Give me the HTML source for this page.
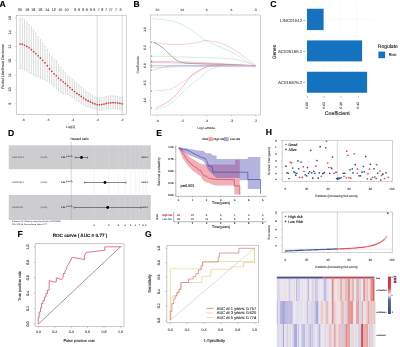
<!DOCTYPE html>
<html><head><meta charset="utf-8"><style>
html,body{margin:0;padding:0;background:#fff;width:400px;height:347px;overflow:hidden}
svg{display:block;will-change:transform}
text{font-family:"Liberation Sans", sans-serif;text-rendering:geometricPrecision}
</style></head><body>
<svg width="400" height="347" viewBox="0 0 400 347">
<rect x="0" y="0" width="400" height="347" fill="#fff"/>
<text x="-0.40" y="6.90" font-size="8.6" fill="#000" text-anchor="start" font-weight="bold" stroke="#000" stroke-width="0.12">A</text>
<line x1="20.00" y1="18.42" x2="20.00" y2="68.62" stroke="#a6aeae" stroke-width="0.42"/>
<line x1="19.40" y1="18.42" x2="20.60" y2="18.42" stroke="#a6aeae" stroke-width="0.42"/>
<line x1="19.40" y1="68.62" x2="20.60" y2="68.62" stroke="#a6aeae" stroke-width="0.42"/>
<line x1="22.27" y1="18.59" x2="22.27" y2="68.79" stroke="#a6aeae" stroke-width="0.42"/>
<line x1="21.67" y1="18.59" x2="22.87" y2="18.59" stroke="#a6aeae" stroke-width="0.42"/>
<line x1="21.67" y1="68.79" x2="22.87" y2="68.79" stroke="#a6aeae" stroke-width="0.42"/>
<line x1="24.54" y1="19.88" x2="24.54" y2="69.83" stroke="#a6aeae" stroke-width="0.42"/>
<line x1="23.94" y1="19.88" x2="25.14" y2="19.88" stroke="#a6aeae" stroke-width="0.42"/>
<line x1="23.94" y1="69.83" x2="25.14" y2="69.83" stroke="#a6aeae" stroke-width="0.42"/>
<line x1="26.81" y1="22.07" x2="26.81" y2="71.02" stroke="#a6aeae" stroke-width="0.42"/>
<line x1="26.21" y1="22.07" x2="27.41" y2="22.07" stroke="#a6aeae" stroke-width="0.42"/>
<line x1="26.21" y1="71.02" x2="27.41" y2="71.02" stroke="#a6aeae" stroke-width="0.42"/>
<line x1="29.08" y1="24.49" x2="29.08" y2="72.34" stroke="#a6aeae" stroke-width="0.42"/>
<line x1="28.48" y1="24.49" x2="29.68" y2="24.49" stroke="#a6aeae" stroke-width="0.42"/>
<line x1="28.48" y1="72.34" x2="29.68" y2="72.34" stroke="#a6aeae" stroke-width="0.42"/>
<line x1="31.35" y1="26.85" x2="31.35" y2="73.83" stroke="#a6aeae" stroke-width="0.42"/>
<line x1="30.75" y1="26.85" x2="31.95" y2="26.85" stroke="#a6aeae" stroke-width="0.42"/>
<line x1="30.75" y1="73.83" x2="31.95" y2="73.83" stroke="#a6aeae" stroke-width="0.42"/>
<line x1="33.62" y1="30.53" x2="33.62" y2="74.97" stroke="#a6aeae" stroke-width="0.42"/>
<line x1="33.02" y1="30.53" x2="34.22" y2="30.53" stroke="#a6aeae" stroke-width="0.42"/>
<line x1="33.02" y1="74.97" x2="34.22" y2="74.97" stroke="#a6aeae" stroke-width="0.42"/>
<line x1="35.89" y1="33.08" x2="35.89" y2="75.87" stroke="#a6aeae" stroke-width="0.42"/>
<line x1="35.29" y1="33.08" x2="36.49" y2="33.08" stroke="#a6aeae" stroke-width="0.42"/>
<line x1="35.29" y1="75.87" x2="36.49" y2="75.87" stroke="#a6aeae" stroke-width="0.42"/>
<line x1="38.16" y1="36.59" x2="38.16" y2="77.03" stroke="#a6aeae" stroke-width="0.42"/>
<line x1="37.56" y1="36.59" x2="38.76" y2="36.59" stroke="#a6aeae" stroke-width="0.42"/>
<line x1="37.56" y1="77.03" x2="38.76" y2="77.03" stroke="#a6aeae" stroke-width="0.42"/>
<line x1="40.43" y1="39.69" x2="40.43" y2="78.20" stroke="#a6aeae" stroke-width="0.42"/>
<line x1="39.83" y1="39.69" x2="41.03" y2="39.69" stroke="#a6aeae" stroke-width="0.42"/>
<line x1="39.83" y1="78.20" x2="41.03" y2="78.20" stroke="#a6aeae" stroke-width="0.42"/>
<line x1="42.70" y1="43.07" x2="42.70" y2="79.12" stroke="#a6aeae" stroke-width="0.42"/>
<line x1="42.10" y1="43.07" x2="43.30" y2="43.07" stroke="#a6aeae" stroke-width="0.42"/>
<line x1="42.10" y1="79.12" x2="43.30" y2="79.12" stroke="#a6aeae" stroke-width="0.42"/>
<line x1="44.97" y1="46.29" x2="44.97" y2="79.96" stroke="#a6aeae" stroke-width="0.42"/>
<line x1="44.37" y1="46.29" x2="45.57" y2="46.29" stroke="#a6aeae" stroke-width="0.42"/>
<line x1="44.37" y1="79.96" x2="45.57" y2="79.96" stroke="#a6aeae" stroke-width="0.42"/>
<line x1="47.24" y1="49.49" x2="47.24" y2="81.15" stroke="#a6aeae" stroke-width="0.42"/>
<line x1="46.64" y1="49.49" x2="47.84" y2="49.49" stroke="#a6aeae" stroke-width="0.42"/>
<line x1="46.64" y1="81.15" x2="47.84" y2="81.15" stroke="#a6aeae" stroke-width="0.42"/>
<line x1="49.51" y1="53.54" x2="49.51" y2="82.64" stroke="#a6aeae" stroke-width="0.42"/>
<line x1="48.91" y1="53.54" x2="50.11" y2="53.54" stroke="#a6aeae" stroke-width="0.42"/>
<line x1="48.91" y1="82.64" x2="50.11" y2="82.64" stroke="#a6aeae" stroke-width="0.42"/>
<line x1="51.78" y1="56.13" x2="51.78" y2="84.62" stroke="#a6aeae" stroke-width="0.42"/>
<line x1="51.18" y1="56.13" x2="52.38" y2="56.13" stroke="#a6aeae" stroke-width="0.42"/>
<line x1="51.18" y1="84.62" x2="52.38" y2="84.62" stroke="#a6aeae" stroke-width="0.42"/>
<line x1="54.05" y1="58.87" x2="54.05" y2="86.82" stroke="#a6aeae" stroke-width="0.42"/>
<line x1="53.45" y1="58.87" x2="54.65" y2="58.87" stroke="#a6aeae" stroke-width="0.42"/>
<line x1="53.45" y1="86.82" x2="54.65" y2="86.82" stroke="#a6aeae" stroke-width="0.42"/>
<line x1="56.32" y1="60.93" x2="56.32" y2="88.35" stroke="#a6aeae" stroke-width="0.42"/>
<line x1="55.72" y1="60.93" x2="56.92" y2="60.93" stroke="#a6aeae" stroke-width="0.42"/>
<line x1="55.72" y1="88.35" x2="56.92" y2="88.35" stroke="#a6aeae" stroke-width="0.42"/>
<line x1="58.59" y1="64.21" x2="58.59" y2="90.51" stroke="#a6aeae" stroke-width="0.42"/>
<line x1="57.99" y1="64.21" x2="59.19" y2="64.21" stroke="#a6aeae" stroke-width="0.42"/>
<line x1="57.99" y1="90.51" x2="59.19" y2="90.51" stroke="#a6aeae" stroke-width="0.42"/>
<line x1="60.86" y1="67.26" x2="60.86" y2="92.43" stroke="#a6aeae" stroke-width="0.42"/>
<line x1="60.26" y1="67.26" x2="61.46" y2="67.26" stroke="#a6aeae" stroke-width="0.42"/>
<line x1="60.26" y1="92.43" x2="61.46" y2="92.43" stroke="#a6aeae" stroke-width="0.42"/>
<line x1="63.13" y1="70.16" x2="63.13" y2="93.97" stroke="#a6aeae" stroke-width="0.42"/>
<line x1="62.53" y1="70.16" x2="63.73" y2="70.16" stroke="#a6aeae" stroke-width="0.42"/>
<line x1="62.53" y1="93.97" x2="63.73" y2="93.97" stroke="#a6aeae" stroke-width="0.42"/>
<line x1="65.40" y1="72.66" x2="65.40" y2="93.75" stroke="#a6aeae" stroke-width="0.42"/>
<line x1="64.80" y1="72.66" x2="66.00" y2="72.66" stroke="#a6aeae" stroke-width="0.42"/>
<line x1="64.80" y1="93.75" x2="66.00" y2="93.75" stroke="#a6aeae" stroke-width="0.42"/>
<line x1="67.67" y1="75.62" x2="67.67" y2="94.28" stroke="#a6aeae" stroke-width="0.42"/>
<line x1="67.07" y1="75.62" x2="68.27" y2="75.62" stroke="#a6aeae" stroke-width="0.42"/>
<line x1="67.07" y1="94.28" x2="68.27" y2="94.28" stroke="#a6aeae" stroke-width="0.42"/>
<line x1="69.94" y1="77.50" x2="69.94" y2="95.82" stroke="#a6aeae" stroke-width="0.42"/>
<line x1="69.34" y1="77.50" x2="70.54" y2="77.50" stroke="#a6aeae" stroke-width="0.42"/>
<line x1="69.34" y1="95.82" x2="70.54" y2="95.82" stroke="#a6aeae" stroke-width="0.42"/>
<line x1="72.21" y1="79.45" x2="72.21" y2="97.43" stroke="#a6aeae" stroke-width="0.42"/>
<line x1="71.61" y1="79.45" x2="72.81" y2="79.45" stroke="#a6aeae" stroke-width="0.42"/>
<line x1="71.61" y1="97.43" x2="72.81" y2="97.43" stroke="#a6aeae" stroke-width="0.42"/>
<line x1="74.48" y1="81.40" x2="74.48" y2="99.04" stroke="#a6aeae" stroke-width="0.42"/>
<line x1="73.88" y1="81.40" x2="75.08" y2="81.40" stroke="#a6aeae" stroke-width="0.42"/>
<line x1="73.88" y1="99.04" x2="75.08" y2="99.04" stroke="#a6aeae" stroke-width="0.42"/>
<line x1="76.75" y1="83.26" x2="76.75" y2="100.57" stroke="#a6aeae" stroke-width="0.42"/>
<line x1="76.15" y1="83.26" x2="77.35" y2="83.26" stroke="#a6aeae" stroke-width="0.42"/>
<line x1="76.15" y1="100.57" x2="77.35" y2="100.57" stroke="#a6aeae" stroke-width="0.42"/>
<line x1="79.02" y1="84.87" x2="79.02" y2="101.65" stroke="#a6aeae" stroke-width="0.42"/>
<line x1="78.42" y1="84.87" x2="79.62" y2="84.87" stroke="#a6aeae" stroke-width="0.42"/>
<line x1="78.42" y1="101.65" x2="79.62" y2="101.65" stroke="#a6aeae" stroke-width="0.42"/>
<line x1="81.29" y1="87.01" x2="81.29" y2="103.26" stroke="#a6aeae" stroke-width="0.42"/>
<line x1="80.69" y1="87.01" x2="81.89" y2="87.01" stroke="#a6aeae" stroke-width="0.42"/>
<line x1="80.69" y1="103.26" x2="81.89" y2="103.26" stroke="#a6aeae" stroke-width="0.42"/>
<line x1="83.56" y1="89.00" x2="83.56" y2="104.71" stroke="#a6aeae" stroke-width="0.42"/>
<line x1="82.96" y1="89.00" x2="84.16" y2="89.00" stroke="#a6aeae" stroke-width="0.42"/>
<line x1="82.96" y1="104.71" x2="84.16" y2="104.71" stroke="#a6aeae" stroke-width="0.42"/>
<line x1="85.83" y1="90.89" x2="85.83" y2="106.08" stroke="#a6aeae" stroke-width="0.42"/>
<line x1="85.23" y1="90.89" x2="86.43" y2="90.89" stroke="#a6aeae" stroke-width="0.42"/>
<line x1="85.23" y1="106.08" x2="86.43" y2="106.08" stroke="#a6aeae" stroke-width="0.42"/>
<line x1="88.10" y1="92.59" x2="88.10" y2="107.05" stroke="#a6aeae" stroke-width="0.42"/>
<line x1="87.50" y1="92.59" x2="88.70" y2="92.59" stroke="#a6aeae" stroke-width="0.42"/>
<line x1="87.50" y1="107.05" x2="88.70" y2="107.05" stroke="#a6aeae" stroke-width="0.42"/>
<line x1="90.37" y1="94.11" x2="90.37" y2="107.81" stroke="#a6aeae" stroke-width="0.42"/>
<line x1="89.77" y1="94.11" x2="90.97" y2="94.11" stroke="#a6aeae" stroke-width="0.42"/>
<line x1="89.77" y1="107.81" x2="90.97" y2="107.81" stroke="#a6aeae" stroke-width="0.42"/>
<line x1="92.64" y1="95.62" x2="92.64" y2="108.55" stroke="#a6aeae" stroke-width="0.42"/>
<line x1="92.04" y1="95.62" x2="93.24" y2="95.62" stroke="#a6aeae" stroke-width="0.42"/>
<line x1="92.04" y1="108.55" x2="93.24" y2="108.55" stroke="#a6aeae" stroke-width="0.42"/>
<line x1="94.91" y1="97.03" x2="94.91" y2="109.24" stroke="#a6aeae" stroke-width="0.42"/>
<line x1="94.31" y1="97.03" x2="95.51" y2="97.03" stroke="#a6aeae" stroke-width="0.42"/>
<line x1="94.31" y1="109.24" x2="95.51" y2="109.24" stroke="#a6aeae" stroke-width="0.42"/>
<line x1="97.18" y1="97.71" x2="97.18" y2="110.02" stroke="#a6aeae" stroke-width="0.42"/>
<line x1="96.58" y1="97.71" x2="97.78" y2="97.71" stroke="#a6aeae" stroke-width="0.42"/>
<line x1="96.58" y1="110.02" x2="97.78" y2="110.02" stroke="#a6aeae" stroke-width="0.42"/>
<line x1="99.45" y1="97.88" x2="99.45" y2="110.34" stroke="#a6aeae" stroke-width="0.42"/>
<line x1="98.85" y1="97.88" x2="100.05" y2="97.88" stroke="#a6aeae" stroke-width="0.42"/>
<line x1="98.85" y1="110.34" x2="100.05" y2="110.34" stroke="#a6aeae" stroke-width="0.42"/>
<line x1="101.72" y1="97.59" x2="101.72" y2="110.19" stroke="#a6aeae" stroke-width="0.42"/>
<line x1="101.12" y1="97.59" x2="102.32" y2="97.59" stroke="#a6aeae" stroke-width="0.42"/>
<line x1="101.12" y1="110.19" x2="102.32" y2="110.19" stroke="#a6aeae" stroke-width="0.42"/>
<line x1="103.99" y1="97.10" x2="103.99" y2="109.85" stroke="#a6aeae" stroke-width="0.42"/>
<line x1="103.39" y1="97.10" x2="104.59" y2="97.10" stroke="#a6aeae" stroke-width="0.42"/>
<line x1="103.39" y1="109.85" x2="104.59" y2="109.85" stroke="#a6aeae" stroke-width="0.42"/>
<line x1="106.26" y1="96.43" x2="106.26" y2="109.33" stroke="#a6aeae" stroke-width="0.42"/>
<line x1="105.66" y1="96.43" x2="106.86" y2="96.43" stroke="#a6aeae" stroke-width="0.42"/>
<line x1="105.66" y1="109.33" x2="106.86" y2="109.33" stroke="#a6aeae" stroke-width="0.42"/>
<line x1="108.53" y1="96.00" x2="108.53" y2="109.04" stroke="#a6aeae" stroke-width="0.42"/>
<line x1="107.93" y1="96.00" x2="109.13" y2="96.00" stroke="#a6aeae" stroke-width="0.42"/>
<line x1="107.93" y1="109.04" x2="109.13" y2="109.04" stroke="#a6aeae" stroke-width="0.42"/>
<line x1="110.80" y1="95.79" x2="110.80" y2="108.97" stroke="#a6aeae" stroke-width="0.42"/>
<line x1="110.20" y1="95.79" x2="111.40" y2="95.79" stroke="#a6aeae" stroke-width="0.42"/>
<line x1="110.20" y1="108.97" x2="111.40" y2="108.97" stroke="#a6aeae" stroke-width="0.42"/>
<line x1="113.07" y1="95.78" x2="113.07" y2="108.84" stroke="#a6aeae" stroke-width="0.42"/>
<line x1="112.47" y1="95.78" x2="113.67" y2="95.78" stroke="#a6aeae" stroke-width="0.42"/>
<line x1="112.47" y1="108.84" x2="113.67" y2="108.84" stroke="#a6aeae" stroke-width="0.42"/>
<line x1="115.34" y1="96.03" x2="115.34" y2="108.94" stroke="#a6aeae" stroke-width="0.42"/>
<line x1="114.74" y1="96.03" x2="115.94" y2="96.03" stroke="#a6aeae" stroke-width="0.42"/>
<line x1="114.74" y1="108.94" x2="115.94" y2="108.94" stroke="#a6aeae" stroke-width="0.42"/>
<line x1="117.61" y1="96.37" x2="117.61" y2="109.13" stroke="#a6aeae" stroke-width="0.42"/>
<line x1="117.01" y1="96.37" x2="118.21" y2="96.37" stroke="#a6aeae" stroke-width="0.42"/>
<line x1="117.01" y1="109.13" x2="118.21" y2="109.13" stroke="#a6aeae" stroke-width="0.42"/>
<line x1="119.88" y1="96.92" x2="119.88" y2="109.52" stroke="#a6aeae" stroke-width="0.42"/>
<line x1="119.28" y1="96.92" x2="120.48" y2="96.92" stroke="#a6aeae" stroke-width="0.42"/>
<line x1="119.28" y1="109.52" x2="120.48" y2="109.52" stroke="#a6aeae" stroke-width="0.42"/>
<line x1="122.15" y1="97.60" x2="122.15" y2="110.05" stroke="#a6aeae" stroke-width="0.42"/>
<line x1="121.55" y1="97.60" x2="122.75" y2="97.60" stroke="#a6aeae" stroke-width="0.42"/>
<line x1="121.55" y1="110.05" x2="122.75" y2="110.05" stroke="#a6aeae" stroke-width="0.42"/>
<circle cx="20.00" cy="44.02" r="0.85" fill="#d83434"/>
<circle cx="22.27" cy="44.19" r="0.85" fill="#d83434"/>
<circle cx="24.54" cy="45.23" r="0.85" fill="#d83434"/>
<circle cx="26.81" cy="46.42" r="0.85" fill="#d83434"/>
<circle cx="29.08" cy="47.74" r="0.85" fill="#d83434"/>
<circle cx="31.35" cy="49.56" r="0.85" fill="#d83434"/>
<circle cx="33.62" cy="51.70" r="0.85" fill="#d83434"/>
<circle cx="35.89" cy="53.61" r="0.85" fill="#d83434"/>
<circle cx="38.16" cy="55.77" r="0.85" fill="#d83434"/>
<circle cx="40.43" cy="57.95" r="0.85" fill="#d83434"/>
<circle cx="42.70" cy="60.37" r="0.85" fill="#d83434"/>
<circle cx="44.97" cy="62.87" r="0.85" fill="#d83434"/>
<circle cx="47.24" cy="65.72" r="0.85" fill="#d83434"/>
<circle cx="49.51" cy="68.88" r="0.85" fill="#d83434"/>
<circle cx="51.78" cy="71.27" r="0.85" fill="#d83434"/>
<circle cx="54.05" cy="73.84" r="0.85" fill="#d83434"/>
<circle cx="56.32" cy="75.73" r="0.85" fill="#d83434"/>
<circle cx="58.59" cy="77.98" r="0.85" fill="#d83434"/>
<circle cx="60.86" cy="79.97" r="0.85" fill="#d83434"/>
<circle cx="63.13" cy="81.84" r="0.85" fill="#d83434"/>
<circle cx="65.40" cy="83.50" r="0.85" fill="#d83434"/>
<circle cx="67.67" cy="85.72" r="0.85" fill="#d83434"/>
<circle cx="69.94" cy="87.60" r="0.85" fill="#d83434"/>
<circle cx="72.21" cy="89.55" r="0.85" fill="#d83434"/>
<circle cx="74.48" cy="91.50" r="0.85" fill="#d83434"/>
<circle cx="76.75" cy="93.36" r="0.85" fill="#d83434"/>
<circle cx="79.02" cy="94.64" r="0.85" fill="#d83434"/>
<circle cx="81.29" cy="96.44" r="0.85" fill="#d83434"/>
<circle cx="83.56" cy="98.09" r="0.85" fill="#d83434"/>
<circle cx="85.83" cy="99.65" r="0.85" fill="#d83434"/>
<circle cx="88.10" cy="100.90" r="0.85" fill="#d83434"/>
<circle cx="90.37" cy="101.94" r="0.85" fill="#d83434"/>
<circle cx="92.64" cy="102.97" r="0.85" fill="#d83434"/>
<circle cx="94.91" cy="103.94" r="0.85" fill="#d83434"/>
<circle cx="97.18" cy="104.61" r="0.85" fill="#d83434"/>
<circle cx="99.45" cy="104.80" r="0.85" fill="#d83434"/>
<circle cx="101.72" cy="104.52" r="0.85" fill="#d83434"/>
<circle cx="103.99" cy="104.05" r="0.85" fill="#d83434"/>
<circle cx="106.26" cy="103.40" r="0.85" fill="#d83434"/>
<circle cx="108.53" cy="102.98" r="0.85" fill="#d83434"/>
<circle cx="110.80" cy="102.79" r="0.85" fill="#d83434"/>
<circle cx="113.07" cy="102.64" r="0.85" fill="#d83434"/>
<circle cx="115.34" cy="102.74" r="0.85" fill="#d83434"/>
<circle cx="117.61" cy="102.93" r="0.85" fill="#d83434"/>
<circle cx="119.88" cy="103.32" r="0.85" fill="#d83434"/>
<circle cx="122.15" cy="103.85" r="0.85" fill="#d83434"/>
<line x1="97.20" y1="15.20" x2="97.20" y2="114.60" stroke="#9a9a9a" stroke-width="0.4"/>
<line x1="122.20" y1="15.20" x2="122.20" y2="114.60" stroke="#9a9a9a" stroke-width="0.4"/>
<rect x="16.30" y="15.20" width="109.90" height="99.40" fill="none" stroke="#9a9a9a" stroke-width="0.45"/>
<text x="20.00" y="10.90" font-size="3.7" fill="#555" text-anchor="middle" font-weight="normal" stroke="#555" stroke-width="0.12">20</text>
<text x="27.20" y="10.90" font-size="3.7" fill="#555" text-anchor="middle" font-weight="normal" stroke="#555" stroke-width="0.12">19</text>
<text x="33.20" y="10.90" font-size="3.7" fill="#555" text-anchor="middle" font-weight="normal" stroke="#555" stroke-width="0.12">18</text>
<text x="40.25" y="10.90" font-size="3.7" fill="#555" text-anchor="middle" font-weight="normal" stroke="#555" stroke-width="0.12">18</text>
<text x="47.30" y="10.90" font-size="3.7" fill="#555" text-anchor="middle" font-weight="normal" stroke="#555" stroke-width="0.12">14</text>
<text x="53.75" y="10.90" font-size="3.7" fill="#555" text-anchor="middle" font-weight="normal" stroke="#555" stroke-width="0.12">12</text>
<text x="60.20" y="10.90" font-size="3.7" fill="#555" text-anchor="middle" font-weight="normal" stroke="#555" stroke-width="0.12">10</text>
<text x="66.50" y="10.90" font-size="3.7" fill="#555" text-anchor="middle" font-weight="normal" stroke="#555" stroke-width="0.12">10</text>
<text x="75.25" y="10.90" font-size="3.7" fill="#555" text-anchor="middle" font-weight="normal" stroke="#555" stroke-width="0.12">9</text>
<text x="79.00" y="10.90" font-size="3.7" fill="#555" text-anchor="middle" font-weight="normal" stroke="#555" stroke-width="0.12">9</text>
<text x="83.20" y="10.90" font-size="3.7" fill="#555" text-anchor="middle" font-weight="normal" stroke="#555" stroke-width="0.12">9</text>
<text x="86.80" y="10.90" font-size="3.7" fill="#555" text-anchor="middle" font-weight="normal" stroke="#555" stroke-width="0.12">9</text>
<text x="91.00" y="10.90" font-size="3.7" fill="#555" text-anchor="middle" font-weight="normal" stroke="#555" stroke-width="0.12">9</text>
<text x="94.30" y="10.90" font-size="3.7" fill="#555" text-anchor="middle" font-weight="normal" stroke="#555" stroke-width="0.12">9</text>
<text x="98.50" y="10.90" font-size="3.7" fill="#555" text-anchor="middle" font-weight="normal" stroke="#555" stroke-width="0.12">7</text>
<text x="102.25" y="10.90" font-size="3.7" fill="#555" text-anchor="middle" font-weight="normal" stroke="#555" stroke-width="0.12">8</text>
<text x="106.00" y="10.90" font-size="3.7" fill="#555" text-anchor="middle" font-weight="normal" stroke="#555" stroke-width="0.12">7</text>
<text x="109.75" y="10.90" font-size="3.7" fill="#555" text-anchor="middle" font-weight="normal" stroke="#555" stroke-width="0.12">7</text>
<text x="111.50" y="10.90" font-size="3.7" fill="#555" text-anchor="middle" font-weight="normal" stroke="#555" stroke-width="0.12">7</text>
<text x="116.00" y="10.90" font-size="3.7" fill="#555" text-anchor="middle" font-weight="normal" stroke="#555" stroke-width="0.12">7</text>
<text x="120.50" y="10.90" font-size="3.7" fill="#555" text-anchor="middle" font-weight="normal" stroke="#555" stroke-width="0.12">3</text>
<line x1="16.30" y1="18.00" x2="15.10" y2="18.00" stroke="#8a8a8a" stroke-width="0.4"/>
<text x="11.20" y="18.00" font-size="3.6" fill="#555" text-anchor="middle" font-weight="normal" stroke="#555" stroke-width="0.12" transform="rotate(-90 11.20 18.00)">16</text>
<line x1="16.30" y1="32.30" x2="15.10" y2="32.30" stroke="#8a8a8a" stroke-width="0.4"/>
<text x="11.20" y="32.30" font-size="3.6" fill="#555" text-anchor="middle" font-weight="normal" stroke="#555" stroke-width="0.12" transform="rotate(-90 11.20 32.30)">14</text>
<line x1="16.30" y1="46.50" x2="15.10" y2="46.50" stroke="#8a8a8a" stroke-width="0.4"/>
<text x="11.20" y="46.50" font-size="3.6" fill="#555" text-anchor="middle" font-weight="normal" stroke="#555" stroke-width="0.12" transform="rotate(-90 11.20 46.50)">12</text>
<line x1="16.30" y1="60.80" x2="15.10" y2="60.80" stroke="#8a8a8a" stroke-width="0.4"/>
<text x="11.20" y="60.80" font-size="3.6" fill="#555" text-anchor="middle" font-weight="normal" stroke="#555" stroke-width="0.12" transform="rotate(-90 11.20 60.80)">10</text>
<line x1="16.30" y1="75.10" x2="15.10" y2="75.10" stroke="#8a8a8a" stroke-width="0.4"/>
<text x="11.20" y="75.10" font-size="3.6" fill="#555" text-anchor="middle" font-weight="normal" stroke="#555" stroke-width="0.12" transform="rotate(-90 11.20 75.10)">11</text>
<line x1="16.30" y1="89.40" x2="15.10" y2="89.40" stroke="#8a8a8a" stroke-width="0.4"/>
<text x="11.20" y="89.40" font-size="3.6" fill="#555" text-anchor="middle" font-weight="normal" stroke="#555" stroke-width="0.12" transform="rotate(-90 11.20 89.40)">10</text>
<line x1="16.30" y1="103.70" x2="15.10" y2="103.70" stroke="#8a8a8a" stroke-width="0.4"/>
<text x="11.20" y="103.70" font-size="3.6" fill="#555" text-anchor="middle" font-weight="normal" stroke="#555" stroke-width="0.12" transform="rotate(-90 11.20 103.70)">9</text>
<line x1="23.40" y1="114.60" x2="23.40" y2="115.80" stroke="#8a8a8a" stroke-width="0.4"/>
<text x="23.40" y="121.40" font-size="3.2" fill="#555" text-anchor="middle" font-weight="normal" stroke="#555" stroke-width="0.12">-6</text>
<line x1="48.00" y1="114.60" x2="48.00" y2="115.80" stroke="#8a8a8a" stroke-width="0.4"/>
<text x="48.00" y="121.40" font-size="3.2" fill="#555" text-anchor="middle" font-weight="normal" stroke="#555" stroke-width="0.12">-5</text>
<line x1="72.80" y1="114.60" x2="72.80" y2="115.80" stroke="#8a8a8a" stroke-width="0.4"/>
<text x="72.80" y="121.40" font-size="3.2" fill="#555" text-anchor="middle" font-weight="normal" stroke="#555" stroke-width="0.12">-4</text>
<line x1="97.50" y1="114.60" x2="97.50" y2="115.80" stroke="#8a8a8a" stroke-width="0.4"/>
<text x="97.50" y="121.40" font-size="3.2" fill="#555" text-anchor="middle" font-weight="normal" stroke="#555" stroke-width="0.12">-3</text>
<line x1="122.00" y1="114.60" x2="122.00" y2="115.80" stroke="#8a8a8a" stroke-width="0.4"/>
<text x="122.00" y="121.40" font-size="3.2" fill="#555" text-anchor="middle" font-weight="normal" stroke="#555" stroke-width="0.12">-2</text>
<text x="70.50" y="128.00" font-size="3.3" fill="#555" text-anchor="middle" font-weight="normal" stroke="#555" stroke-width="0.12">Log(λ)</text>
<text x="3.80" y="66.60" font-size="3.7" fill="#555" text-anchor="middle" font-weight="normal" stroke="#555" stroke-width="0.12" transform="rotate(-90 3.80 66.60)">Partial Likelihood Deviance</text>
<text x="133.60" y="6.90" font-size="8.6" fill="#000" text-anchor="start" font-weight="bold" stroke="#000" stroke-width="0.12">B</text>
<text x="157.40" y="10.80" font-size="3.3" fill="#555" text-anchor="middle" font-weight="normal" stroke="#555" stroke-width="0.12">20</text>
<line x1="157.40" y1="15.00" x2="157.40" y2="14.00" stroke="#8a8a8a" stroke-width="0.4"/>
<text x="182.00" y="10.80" font-size="3.3" fill="#555" text-anchor="middle" font-weight="normal" stroke="#555" stroke-width="0.12">14</text>
<line x1="182.00" y1="15.00" x2="182.00" y2="14.00" stroke="#8a8a8a" stroke-width="0.4"/>
<text x="206.60" y="10.80" font-size="3.3" fill="#555" text-anchor="middle" font-weight="normal" stroke="#555" stroke-width="0.12">6</text>
<line x1="206.60" y1="15.00" x2="206.60" y2="14.00" stroke="#8a8a8a" stroke-width="0.4"/>
<text x="231.50" y="10.80" font-size="3.3" fill="#555" text-anchor="middle" font-weight="normal" stroke="#555" stroke-width="0.12">6</text>
<line x1="231.50" y1="15.00" x2="231.50" y2="14.00" stroke="#8a8a8a" stroke-width="0.4"/>
<text x="255.70" y="10.80" font-size="3.3" fill="#555" text-anchor="middle" font-weight="normal" stroke="#555" stroke-width="0.12">3</text>
<line x1="255.70" y1="15.00" x2="255.70" y2="14.00" stroke="#8a8a8a" stroke-width="0.4"/>
<line x1="157.30" y1="115.00" x2="157.30" y2="116.20" stroke="#8a8a8a" stroke-width="0.4"/>
<text x="157.30" y="121.60" font-size="3.3" fill="#555" text-anchor="middle" font-weight="normal" stroke="#555" stroke-width="0.12">-6</text>
<line x1="182.50" y1="115.00" x2="182.50" y2="116.20" stroke="#8a8a8a" stroke-width="0.4"/>
<text x="182.50" y="121.60" font-size="3.3" fill="#555" text-anchor="middle" font-weight="normal" stroke="#555" stroke-width="0.12">-5</text>
<line x1="206.60" y1="115.00" x2="206.60" y2="116.20" stroke="#8a8a8a" stroke-width="0.4"/>
<text x="206.60" y="121.60" font-size="3.3" fill="#555" text-anchor="middle" font-weight="normal" stroke="#555" stroke-width="0.12">-4</text>
<line x1="231.50" y1="115.00" x2="231.50" y2="116.20" stroke="#8a8a8a" stroke-width="0.4"/>
<text x="231.50" y="121.60" font-size="3.3" fill="#555" text-anchor="middle" font-weight="normal" stroke="#555" stroke-width="0.12">-3</text>
<line x1="255.70" y1="115.00" x2="255.70" y2="116.20" stroke="#8a8a8a" stroke-width="0.4"/>
<text x="255.70" y="121.60" font-size="3.3" fill="#555" text-anchor="middle" font-weight="normal" stroke="#555" stroke-width="0.12">-2</text>
<line x1="150.50" y1="29.50" x2="149.30" y2="29.50" stroke="#8a8a8a" stroke-width="0.4"/>
<text x="145.60" y="29.50" font-size="3.3" fill="#555" text-anchor="middle" font-weight="normal" stroke="#555" stroke-width="0.12" transform="rotate(-90 145.60 29.50)">1.0</text>
<line x1="150.50" y1="47.40" x2="149.30" y2="47.40" stroke="#8a8a8a" stroke-width="0.4"/>
<text x="145.60" y="47.40" font-size="3.3" fill="#555" text-anchor="middle" font-weight="normal" stroke="#555" stroke-width="0.12" transform="rotate(-90 145.60 47.40)">0.5</text>
<line x1="150.50" y1="65.50" x2="149.30" y2="65.50" stroke="#8a8a8a" stroke-width="0.4"/>
<text x="145.60" y="65.50" font-size="3.3" fill="#555" text-anchor="middle" font-weight="normal" stroke="#555" stroke-width="0.12" transform="rotate(-90 145.60 65.50)">0.0</text>
<line x1="150.50" y1="83.20" x2="149.30" y2="83.20" stroke="#8a8a8a" stroke-width="0.4"/>
<text x="145.60" y="83.20" font-size="3.3" fill="#555" text-anchor="middle" font-weight="normal" stroke="#555" stroke-width="0.12" transform="rotate(-90 145.60 83.20)">-0.5</text>
<line x1="150.50" y1="100.60" x2="149.30" y2="100.60" stroke="#8a8a8a" stroke-width="0.4"/>
<text x="145.60" y="100.60" font-size="3.3" fill="#555" text-anchor="middle" font-weight="normal" stroke="#555" stroke-width="0.12" transform="rotate(-90 145.60 100.60)">-1.0</text>
<text x="138.60" y="65.00" font-size="3.3" fill="#555" text-anchor="middle" font-weight="normal" stroke="#555" stroke-width="0.12" transform="rotate(-90 138.60 65.00)">Coefficients</text>
<text x="206.00" y="129.20" font-size="3.2" fill="#555" text-anchor="middle" font-weight="normal" stroke="#555" stroke-width="0.12">Log Lambda</text>
<polyline points="151.50,18.60 154.02,18.86 157.57,19.18 161.75,19.58 166.15,20.09 170.37,20.72 174.00,21.50 177.11,22.48 180.04,23.66 182.78,24.96 185.35,26.33 187.76,27.70 190.00,29.00 192.06,30.29 193.93,31.63 195.62,32.96 197.19,34.25 198.63,35.45 200.00,36.50 201.16,37.37 202.08,38.07 202.88,38.68 203.71,39.26 204.70,39.88 206.00,40.60 207.57,41.39 209.31,42.21 211.21,43.06 213.28,43.96 215.51,44.93 217.90,46.00 220.63,47.20 223.73,48.54 226.99,49.95 230.21,51.37 233.18,52.74 235.70,54.00 237.68,55.14 239.25,56.22 240.58,57.25 241.81,58.24 243.10,59.22 244.60,60.20 246.43,61.23 248.49,62.32 250.61,63.39 252.60,64.37 254.29,65.20 255.50,65.80" fill="none" stroke="#a6d8d0" stroke-width="0.5" stroke-linejoin="round"/>
<polyline points="152.30,42.30 154.67,42.60 157.95,43.04 161.84,43.55 166.01,44.04 170.17,44.42 174.00,44.60 177.66,44.57 181.42,44.39 185.17,44.09 188.77,43.74 192.09,43.36 195.00,43.00 197.36,42.59 199.24,42.07 200.85,41.52 202.38,41.04 204.03,40.71 206.00,40.60 208.32,40.71 210.85,40.99 213.49,41.40 216.19,41.95 218.85,42.62 221.40,43.40 223.89,44.34 226.38,45.44 228.84,46.67 231.24,47.98 233.54,49.30 235.70,50.60 237.73,51.92 239.66,53.31 241.49,54.73 243.23,56.11 244.86,57.42 246.40,58.60 247.86,59.67 249.26,60.66 250.55,61.57 251.72,62.41 252.75,63.15 253.60,63.80 254.25,64.34 254.70,64.78 255.00,65.12 255.20,65.40 255.35,65.62 255.50,65.80" fill="none" stroke="#e8a0b4" stroke-width="0.5" stroke-linejoin="round"/>
<polyline points="154.00,42.30 155.00,42.90 156.39,43.72 158.03,44.70 159.78,45.78 161.48,46.90 163.00,48.00 164.30,49.12 165.50,50.30 166.66,51.52 167.84,52.76 169.10,53.99 170.50,55.20 171.96,56.44 173.43,57.75 174.98,59.05 176.68,60.27 178.63,61.35 180.90,62.20 183.45,62.79 186.22,63.16 189.23,63.39 192.50,63.53 196.09,63.64 200.00,63.80 204.42,63.98 209.36,64.11 214.60,64.22 219.93,64.33 225.13,64.45 230.00,64.60 234.81,64.79 239.78,65.01 244.62,65.25 249.06,65.47 252.78,65.66 255.50,65.80" fill="none" stroke="#4e5a4e" stroke-width="0.5" stroke-linejoin="round"/>
<polyline points="151.50,56.10 157.98,56.28 167.21,56.54 178.02,56.84 189.21,57.16 199.60,57.49 208.00,57.80 214.37,58.04 219.66,58.23 224.14,58.42 228.12,58.67 231.87,59.04 235.70,59.60 239.69,60.45 243.62,61.57 247.33,62.81 250.66,64.03 253.44,65.07 255.50,65.80" fill="none" stroke="#b0dcb0" stroke-width="0.5" stroke-linejoin="round"/>
<polyline points="152.00,61.25 157.14,61.36 164.17,61.50 172.53,61.67 181.67,61.89 191.01,62.16 200.00,62.50 209.46,62.97 220.00,63.57 230.75,64.23 240.83,64.87 249.38,65.42 255.50,65.80" fill="none" stroke="#e890a0" stroke-width="0.5" stroke-linejoin="round"/>
<polyline points="152.00,62.50 157.14,62.59 164.17,62.71 172.53,62.86 181.67,63.03 191.01,63.25 200.00,63.50 209.46,63.83 220.00,64.26 230.75,64.71 240.83,65.16 249.38,65.53 255.50,65.80" fill="none" stroke="#c090c0" stroke-width="0.5" stroke-linejoin="round"/>
<polyline points="152.00,65.40 157.14,65.40 164.17,65.39 172.53,65.38 181.67,65.37 191.01,65.38 200.00,65.40 209.46,65.45 220.00,65.52 230.75,65.60 240.83,65.68 249.38,65.75 255.50,65.80" fill="none" stroke="#98a4b4" stroke-width="0.5" stroke-linejoin="round"/>
<polyline points="152.00,67.10 157.14,67.04 164.17,66.95 172.53,66.84 181.67,66.73 191.01,66.61 200.00,66.50 209.46,66.38 220.00,66.25 230.75,66.11 240.83,65.99 249.38,65.88 255.50,65.80" fill="none" stroke="#b8a0d0" stroke-width="0.5" stroke-linejoin="round"/>
<polyline points="152.50,70.20 154.30,69.70 156.60,68.96 159.43,68.11 162.79,67.26 166.70,66.52 171.20,66.00 176.43,65.73 182.40,65.63 188.92,65.64 195.83,65.70 202.91,65.78 210.00,65.80 217.72,65.79 226.36,65.79 235.18,65.79 243.46,65.79 250.47,65.80 255.50,65.80" fill="none" stroke="#a0b0c4" stroke-width="0.5" stroke-linejoin="round"/>
<polyline points="155.10,90.70 156.87,90.59 159.34,90.50 162.26,90.36 165.37,90.09 168.43,89.63 171.20,88.90 173.73,87.81 176.23,86.39 178.69,84.78 181.07,83.10 183.35,81.46 185.50,80.00 187.48,78.71 189.29,77.48 191.01,76.31 192.69,75.16 194.39,74.03 196.20,72.90 198.10,71.70 200.04,70.44 202.02,69.19 204.01,68.03 206.01,67.04 208.00,66.30 209.72,65.86 211.11,65.66 212.52,65.64 214.25,65.70 216.64,65.78 220.00,65.80 224.97,65.77 231.41,65.76 238.50,65.77 245.43,65.78 251.37,65.79 255.50,65.80" fill="none" stroke="#eeaabe" stroke-width="0.5" stroke-linejoin="round"/>
<polyline points="155.10,108.60 156.89,107.68 159.41,106.46 162.37,104.99 165.50,103.32 168.54,101.51 171.20,99.60 173.53,97.49 175.77,95.13 177.90,92.61 179.93,90.07 181.87,87.63 183.70,85.40 185.32,83.37 186.69,81.44 187.97,79.61 189.29,77.87 190.78,76.20 192.60,74.60 194.81,73.02 197.30,71.46 199.98,69.97 202.73,68.63 205.44,67.48 208.00,66.60 210.19,66.04 212.05,65.77 213.87,65.70 215.94,65.74 218.55,65.80 222.00,65.80 226.84,65.75 232.96,65.74 239.62,65.75 246.09,65.77 251.63,65.79 255.50,65.80" fill="none" stroke="#e47c98" stroke-width="0.5" stroke-linejoin="round"/>
<polyline points="155.00,110.40 156.74,109.68 159.14,108.76 161.98,107.64 165.05,106.30 168.13,104.76 171.00,103.00 173.72,100.90 176.49,98.44 179.26,95.76 182.00,93.03 184.70,90.39 187.30,88.00 189.89,85.80 192.51,83.67 195.07,81.62 197.49,79.71 199.70,77.96 201.60,76.40 203.08,75.07 204.19,73.96 205.07,73.00 205.89,72.16 206.82,71.37 208.00,70.60 209.41,69.84 210.92,69.15 212.53,68.51 214.24,67.94 216.06,67.44 218.00,67.00 219.99,66.65 222.02,66.38 224.16,66.17 226.48,66.02 229.07,65.90 232.00,65.80 235.64,65.73 240.00,65.71 244.62,65.72 249.06,65.76 252.83,65.79 255.50,65.80" fill="none" stroke="#a8dee6" stroke-width="0.5" stroke-linejoin="round"/>
<text x="152.20" y="43.10" font-size="2.2" fill="#777" text-anchor="end" font-weight="normal" stroke="#777" stroke-width="0.12">1</text>
<text x="152.20" y="56.90" font-size="2.2" fill="#777" text-anchor="end" font-weight="normal" stroke="#777" stroke-width="0.12">1</text>
<text x="152.20" y="62.10" font-size="2.2" fill="#777" text-anchor="end" font-weight="normal" stroke="#777" stroke-width="0.12">1</text>
<text x="152.20" y="63.30" font-size="2.2" fill="#777" text-anchor="end" font-weight="normal" stroke="#777" stroke-width="0.12">1</text>
<text x="152.20" y="66.20" font-size="2.2" fill="#777" text-anchor="end" font-weight="normal" stroke="#777" stroke-width="0.12">1</text>
<text x="152.20" y="67.90" font-size="2.2" fill="#777" text-anchor="end" font-weight="normal" stroke="#777" stroke-width="0.12">1</text>
<text x="152.20" y="71.00" font-size="2.2" fill="#777" text-anchor="end" font-weight="normal" stroke="#777" stroke-width="0.12">1</text>
<text x="152.20" y="91.50" font-size="2.2" fill="#777" text-anchor="end" font-weight="normal" stroke="#777" stroke-width="0.12">1</text>
<text x="152.20" y="109.40" font-size="2.2" fill="#777" text-anchor="end" font-weight="normal" stroke="#777" stroke-width="0.12">1</text>
<rect x="150.50" y="15.00" width="110.00" height="100.00" fill="none" stroke="#9a9a9a" stroke-width="0.45"/>
<text x="270.30" y="7.10" font-size="8.6" fill="#000" text-anchor="start" font-weight="bold" stroke="#000" stroke-width="0.12">C</text>
<line x1="307.00" y1="4.00" x2="307.00" y2="97.00" stroke="#f0f0f0" stroke-width="0.4"/>
<line x1="323.60" y1="4.00" x2="323.60" y2="97.00" stroke="#f0f0f0" stroke-width="0.4"/>
<line x1="340.20" y1="4.00" x2="340.20" y2="97.00" stroke="#f0f0f0" stroke-width="0.4"/>
<line x1="356.80" y1="4.00" x2="356.80" y2="97.00" stroke="#f0f0f0" stroke-width="0.4"/>
<line x1="305.00" y1="19.40" x2="372.00" y2="19.40" stroke="#f0f0f0" stroke-width="0.4"/>
<line x1="305.00" y1="51.00" x2="372.00" y2="51.00" stroke="#f0f0f0" stroke-width="0.4"/>
<line x1="305.00" y1="82.30" x2="372.00" y2="82.30" stroke="#f0f0f0" stroke-width="0.4"/>
<rect x="307.00" y="8.75" width="16.60" height="21.35" fill="#1572bf" stroke="none" stroke-width="0.5"/>
<rect x="307.00" y="40.40" width="55.10" height="21.00" fill="#1572bf" stroke="none" stroke-width="0.5"/>
<rect x="307.00" y="71.75" width="60.10" height="21.00" fill="#1572bf" stroke="none" stroke-width="0.5"/>
<text x="302.30" y="21.90" font-size="4.4" fill="#4a4a4a" text-anchor="end" font-weight="normal" stroke="#4a4a4a" stroke-width="0.08">LINC01612</text>
<line x1="303.20" y1="20.40" x2="305.00" y2="20.40" stroke="#444" stroke-width="0.45"/>
<text x="302.30" y="53.00" font-size="4.4" fill="#4a4a4a" text-anchor="end" font-weight="normal" stroke="#4a4a4a" stroke-width="0.08">AC025166.1</text>
<line x1="303.20" y1="51.50" x2="305.00" y2="51.50" stroke="#444" stroke-width="0.45"/>
<text x="302.30" y="84.00" font-size="4.4" fill="#4a4a4a" text-anchor="end" font-weight="normal" stroke="#4a4a4a" stroke-width="0.08">AC016876.2</text>
<line x1="303.20" y1="82.50" x2="305.00" y2="82.50" stroke="#444" stroke-width="0.45"/>
<text x="275.80" y="52.00" font-size="4.9" fill="#222" text-anchor="middle" font-weight="normal" stroke="#222" stroke-width="0.12" transform="rotate(-90 275.80 52.00)">Genes</text>
<line x1="307.40" y1="96.00" x2="307.40" y2="97.60" stroke="#555" stroke-width="0.4"/>
<text x="308.50" y="105.20" font-size="3.3" fill="#555" text-anchor="middle" font-weight="normal" stroke="#555" stroke-width="0.12" transform="rotate(-90 308.50 105.20)">0.00</text>
<line x1="324.20" y1="96.00" x2="324.20" y2="97.60" stroke="#555" stroke-width="0.4"/>
<text x="325.30" y="105.20" font-size="3.3" fill="#555" text-anchor="middle" font-weight="normal" stroke="#555" stroke-width="0.12" transform="rotate(-90 325.30 105.20)">0.05</text>
<line x1="341.00" y1="96.00" x2="341.00" y2="97.60" stroke="#555" stroke-width="0.4"/>
<text x="342.10" y="105.20" font-size="3.3" fill="#555" text-anchor="middle" font-weight="normal" stroke="#555" stroke-width="0.12" transform="rotate(-90 342.10 105.20)">0.10</text>
<line x1="358.40" y1="96.00" x2="358.40" y2="97.60" stroke="#555" stroke-width="0.4"/>
<text x="359.50" y="105.20" font-size="3.3" fill="#555" text-anchor="middle" font-weight="normal" stroke="#555" stroke-width="0.12" transform="rotate(-90 359.50 105.20)">0.15</text>
<text x="337.20" y="114.90" font-size="5.3" fill="#222" text-anchor="middle" font-weight="normal" stroke="#222" stroke-width="0.12">Coefficient</text>
<text x="377.80" y="47.90" font-size="5.0" fill="#222" text-anchor="start" font-weight="normal" stroke="#222" stroke-width="0.12">Regulate</text>
<rect x="378.40" y="51.60" width="6.70" height="6.60" fill="#1572bf" stroke="none" stroke-width="0.5"/>
<text x="388.80" y="56.20" font-size="3.9" fill="#333" text-anchor="start" font-weight="normal" stroke="#333" stroke-width="0.12">Risk</text>
<text x="8.00" y="136.00" font-size="8.6" fill="#000" text-anchor="start" font-weight="bold" stroke="#000" stroke-width="0.12">D</text>
<rect x="8.75" y="145.30" width="142.00" height="23.90" fill="#cdcdd0" stroke="none" stroke-width="0.5"/>
<rect x="8.75" y="194.90" width="142.00" height="25.10" fill="#cdcdd0" stroke="none" stroke-width="0.5"/>
<line x1="94.20" y1="145.30" x2="94.20" y2="220.00" stroke="#e2e2e4" stroke-width="0.35"/>
<line x1="108.80" y1="145.30" x2="108.80" y2="220.00" stroke="#e2e2e4" stroke-width="0.35"/>
<line x1="118.40" y1="145.30" x2="118.40" y2="220.00" stroke="#e2e2e4" stroke-width="0.35"/>
<line x1="125.00" y1="145.30" x2="125.00" y2="220.00" stroke="#e2e2e4" stroke-width="0.35"/>
<line x1="130.70" y1="145.30" x2="130.70" y2="220.00" stroke="#e2e2e4" stroke-width="0.35"/>
<line x1="135.30" y1="145.30" x2="135.30" y2="220.00" stroke="#e2e2e4" stroke-width="0.35"/>
<line x1="139.40" y1="145.30" x2="139.40" y2="220.00" stroke="#e2e2e4" stroke-width="0.35"/>
<line x1="143.00" y1="145.30" x2="143.00" y2="220.00" stroke="#e2e2e4" stroke-width="0.35"/>
<line x1="145.80" y1="145.30" x2="145.80" y2="220.00" stroke="#e2e2e4" stroke-width="0.35"/>
<line x1="71.20" y1="141.50" x2="71.20" y2="220.00" stroke="#9a9a9a" stroke-width="0.4"/>
<text x="79.50" y="139.60" font-size="3.35" fill="#444" text-anchor="middle" font-weight="normal" stroke="#444" stroke-width="0.12">Hazard ratio</text>
<text x="12.00" y="157.90" font-size="2.2" fill="#666" text-anchor="start" font-weight="normal" stroke="#666" stroke-width="0.05">AC016876.2</text>
<text x="40.50" y="157.90" font-size="2.2" fill="#666" text-anchor="start" font-weight="normal" stroke="#666" stroke-width="0.05">(N=48)</text>
<text x="61.00" y="157.90" font-size="2.2" fill="#444" text-anchor="start" font-weight="normal" stroke="#444" stroke-width="0.12">1.36</text>
<text x="66.00" y="156.70" font-size="1.7" fill="#444" text-anchor="start" font-weight="normal" stroke="#444" stroke-width="0.12">(1.1-1.7)</text>
<text x="12.00" y="183.20" font-size="2.2" fill="#666" text-anchor="start" font-weight="normal" stroke="#666" stroke-width="0.05">AC025166.1</text>
<text x="40.50" y="183.20" font-size="2.2" fill="#666" text-anchor="start" font-weight="normal" stroke="#666" stroke-width="0.05">(N=48)</text>
<text x="61.00" y="183.20" font-size="2.2" fill="#444" text-anchor="start" font-weight="normal" stroke="#444" stroke-width="0.12">1.36</text>
<text x="66.00" y="182.00" font-size="1.7" fill="#444" text-anchor="start" font-weight="normal" stroke="#444" stroke-width="0.12">(1.1-1.7)</text>
<text x="12.00" y="208.30" font-size="2.2" fill="#666" text-anchor="start" font-weight="normal" stroke="#666" stroke-width="0.05">LINC01612</text>
<text x="40.50" y="208.30" font-size="2.2" fill="#666" text-anchor="start" font-weight="normal" stroke="#666" stroke-width="0.05">(N=48)</text>
<text x="61.00" y="208.30" font-size="2.2" fill="#444" text-anchor="start" font-weight="normal" stroke="#444" stroke-width="0.12">1.36</text>
<text x="66.00" y="207.10" font-size="1.7" fill="#444" text-anchor="start" font-weight="normal" stroke="#444" stroke-width="0.12">(1.1-1.7)</text>
<line x1="75.25" y1="157.50" x2="87.50" y2="157.50" stroke="#555" stroke-width="0.7"/>
<line x1="75.25" y1="156.40" x2="75.25" y2="158.60" stroke="#333" stroke-width="0.5"/>
<line x1="87.50" y1="156.40" x2="87.50" y2="158.60" stroke="#333" stroke-width="0.5"/>
<circle cx="81.5" cy="157.5" r="1.45" fill="#000"/>
<line x1="84.70" y1="182.50" x2="126.00" y2="182.50" stroke="#555" stroke-width="0.7"/>
<line x1="84.70" y1="181.40" x2="84.70" y2="183.60" stroke="#333" stroke-width="0.5"/>
<line x1="126.00" y1="181.40" x2="126.00" y2="183.60" stroke="#333" stroke-width="0.5"/>
<circle cx="105.0" cy="182.5" r="1.45" fill="#000"/>
<line x1="74.20" y1="207.50" x2="140.80" y2="207.50" stroke="#555" stroke-width="0.7"/>
<line x1="74.20" y1="206.40" x2="74.20" y2="208.60" stroke="#333" stroke-width="0.5"/>
<line x1="140.80" y1="206.40" x2="140.80" y2="208.60" stroke="#333" stroke-width="0.5"/>
<circle cx="107.7" cy="207.5" r="1.45" fill="#000"/>
<text x="141.50" y="157.70" font-size="1.9" fill="#444" text-anchor="start" font-weight="normal" stroke="#444" stroke-width="0.12">0.003 **</text>
<text x="141.50" y="183.00" font-size="1.9" fill="#444" text-anchor="start" font-weight="normal" stroke="#444" stroke-width="0.12">0.003 **</text>
<text x="141.50" y="208.10" font-size="1.9" fill="#444" text-anchor="start" font-weight="normal" stroke="#444" stroke-width="0.12">0.003 **</text>
<text x="12.00" y="222.20" font-size="2.05" fill="#555" text-anchor="start" font-weight="normal" stroke="#555" stroke-width="0.06"># Events: 21; Global p-value (Log-Rank): 0.00072464</text>
<text x="12.00" y="225.40" font-size="2.05" fill="#555" text-anchor="start" font-weight="normal" stroke="#555" stroke-width="0.06">AIC: 276.38; Concordance Index: 0.77</text>
<text x="94.20" y="225.80" font-size="2.2" fill="#555" text-anchor="middle" font-weight="normal" stroke="#555" stroke-width="0.12">1</text>
<text x="108.80" y="225.80" font-size="2.2" fill="#555" text-anchor="middle" font-weight="normal" stroke="#555" stroke-width="0.12">2</text>
<text x="118.40" y="225.80" font-size="2.2" fill="#555" text-anchor="middle" font-weight="normal" stroke="#555" stroke-width="0.12">3</text>
<text x="125.00" y="225.80" font-size="2.2" fill="#555" text-anchor="middle" font-weight="normal" stroke="#555" stroke-width="0.12">4</text>
<text x="130.70" y="225.80" font-size="2.2" fill="#555" text-anchor="middle" font-weight="normal" stroke="#555" stroke-width="0.12">5</text>
<text x="135.30" y="225.80" font-size="2.2" fill="#555" text-anchor="middle" font-weight="normal" stroke="#555" stroke-width="0.12">6</text>
<text x="139.40" y="225.80" font-size="2.2" fill="#555" text-anchor="middle" font-weight="normal" stroke="#555" stroke-width="0.12">7</text>
<text x="143.00" y="225.80" font-size="2.2" fill="#555" text-anchor="middle" font-weight="normal" stroke="#555" stroke-width="0.12">8</text>
<text x="145.80" y="225.80" font-size="2.2" fill="#555" text-anchor="middle" font-weight="normal" stroke="#555" stroke-width="0.12">9</text>
<text x="156.30" y="136.20" font-size="8.6" fill="#000" text-anchor="start" font-weight="bold" stroke="#000" stroke-width="0.12">E</text>
<text x="202.60" y="140.40" font-size="2.8" fill="#333" text-anchor="start" font-weight="normal" stroke="#333" stroke-width="0.12">Risk</text>
<rect x="208.90" y="137.70" width="3.50" height="3.20" fill="#f2a2a8" stroke="#e8474b" stroke-width="0.3"/>
<text x="213.60" y="140.40" font-size="2.8" fill="#333" text-anchor="start" font-weight="normal" stroke="#333" stroke-width="0.12">High risk</text>
<rect x="224.65" y="137.70" width="3.50" height="3.20" fill="#aeaee2" stroke="#4a55b0" stroke-width="0.3"/>
<text x="229.90" y="140.40" font-size="2.8" fill="#333" text-anchor="start" font-weight="normal" stroke="#333" stroke-width="0.12">Low risk</text>
<polygon points="178.50,147.50 181.20,148.60 185.20,152.60 187.50,155.00 191.00,157.90 195.60,160.80 199.00,163.10 202.50,164.20 206.00,164.50 235.00,164.50 235.00,159.70 239.80,159.70 239.80,194.60 234.30,194.60 234.30,185.50 216.00,185.50 211.70,184.40 208.90,182.70 205.40,182.10 202.50,179.80 200.80,176.30 197.30,174.00 195.00,172.30 192.10,170.00 188.70,166.50 185.20,161.90 182.90,158.50 181.20,154.40 178.90,149.80" fill="#db4158" fill-opacity="0.42"/>
<polygon points="178.50,147.30 187.50,148.60 196.75,150.30 203.70,150.90 206.00,153.20 210.60,153.20 212.90,155.50 216.50,155.50 216.50,158.90 247.80,158.90 247.80,157.00 260.30,157.00 260.30,189.00 247.80,189.00 247.80,180.30 239.80,180.30 239.80,178.00 216.50,178.00 212.00,174.00 208.30,170.00 206.00,165.30 203.70,161.30 199.00,159.00 193.30,156.70 187.50,154.40 178.50,148.60" fill="#4c4cb0" fill-opacity="0.42"/>
<polyline points="178.90,148.00 181.20,149.20 182.30,152.10 184.10,155.00 186.40,158.50 188.70,161.90 192.10,164.80 194.40,166.50 197.30,168.30 198.50,170.00 200.80,170.60 202.00,173.40 203.70,175.75 206.50,176.30 208.30,178.00 210.60,178.60 212.90,179.20 234.30,179.70 234.30,185.90 239.80,185.90 239.80,194.60" fill="none" stroke="#d42a3a" stroke-width="0.6" stroke-linejoin="round"/>
<polyline points="178.90,148.00 182.90,149.20 187.50,150.30 192.10,152.60 196.75,155.00 201.40,157.30 204.80,158.40 206.50,160.70 207.70,163.00 208.30,165.90 212.00,166.50 213.00,172.20 247.80,172.20 247.80,179.50 260.50,179.50 260.50,193.80" fill="none" stroke="#3040a8" stroke-width="0.6" stroke-linejoin="round"/>
<line x1="175.80" y1="145.50" x2="175.80" y2="196.40" stroke="#555" stroke-width="0.4"/>
<line x1="175.80" y1="196.40" x2="266.50" y2="196.40" stroke="#555" stroke-width="0.4"/>
<line x1="175.80" y1="147.50" x2="174.80" y2="147.50" stroke="#555" stroke-width="0.4"/>
<text x="173.40" y="148.40" font-size="2.7" fill="#333" text-anchor="end" font-weight="normal" stroke="#333" stroke-width="0.12">1.00</text>
<line x1="175.80" y1="159.38" x2="174.80" y2="159.38" stroke="#555" stroke-width="0.4"/>
<text x="173.40" y="160.28" font-size="2.7" fill="#333" text-anchor="end" font-weight="normal" stroke="#333" stroke-width="0.12">0.75</text>
<line x1="175.80" y1="171.25" x2="174.80" y2="171.25" stroke="#555" stroke-width="0.4"/>
<text x="173.40" y="172.15" font-size="2.7" fill="#333" text-anchor="end" font-weight="normal" stroke="#333" stroke-width="0.12">0.50</text>
<line x1="175.80" y1="183.12" x2="174.80" y2="183.12" stroke="#555" stroke-width="0.4"/>
<text x="173.40" y="184.03" font-size="2.7" fill="#333" text-anchor="end" font-weight="normal" stroke="#333" stroke-width="0.12">0.25</text>
<line x1="175.80" y1="195.00" x2="174.80" y2="195.00" stroke="#555" stroke-width="0.4"/>
<text x="173.40" y="195.90" font-size="2.7" fill="#333" text-anchor="end" font-weight="normal" stroke="#333" stroke-width="0.12">0.00</text>
<line x1="178.50" y1="196.40" x2="178.50" y2="197.40" stroke="#444" stroke-width="0.4"/>
<text x="178.50" y="200.60" font-size="2.6" fill="#333" text-anchor="middle" font-weight="normal" stroke="#333" stroke-width="0.12">0</text>
<line x1="192.54" y1="196.40" x2="192.54" y2="197.40" stroke="#444" stroke-width="0.4"/>
<text x="192.54" y="200.60" font-size="2.6" fill="#333" text-anchor="middle" font-weight="normal" stroke="#333" stroke-width="0.12">1</text>
<line x1="206.58" y1="196.40" x2="206.58" y2="197.40" stroke="#444" stroke-width="0.4"/>
<text x="206.58" y="200.60" font-size="2.6" fill="#333" text-anchor="middle" font-weight="normal" stroke="#333" stroke-width="0.12">2</text>
<line x1="220.62" y1="196.40" x2="220.62" y2="197.40" stroke="#444" stroke-width="0.4"/>
<text x="220.62" y="200.60" font-size="2.6" fill="#333" text-anchor="middle" font-weight="normal" stroke="#333" stroke-width="0.12">3</text>
<line x1="234.66" y1="196.40" x2="234.66" y2="197.40" stroke="#444" stroke-width="0.4"/>
<text x="234.66" y="200.60" font-size="2.6" fill="#333" text-anchor="middle" font-weight="normal" stroke="#333" stroke-width="0.12">4</text>
<line x1="248.70" y1="196.40" x2="248.70" y2="197.40" stroke="#444" stroke-width="0.4"/>
<text x="248.70" y="200.60" font-size="2.6" fill="#333" text-anchor="middle" font-weight="normal" stroke="#333" stroke-width="0.12">5</text>
<line x1="262.74" y1="196.40" x2="262.74" y2="197.40" stroke="#444" stroke-width="0.4"/>
<text x="262.74" y="200.60" font-size="2.6" fill="#333" text-anchor="middle" font-weight="normal" stroke="#333" stroke-width="0.12">6</text>
<text x="221.00" y="204.10" font-size="3.4" fill="#333" text-anchor="middle" font-weight="normal" stroke="#333" stroke-width="0.12">Time(years)</text>
<text x="159.60" y="171.50" font-size="3.4" fill="#333" text-anchor="middle" font-weight="normal" stroke="#333" stroke-width="0.12" transform="rotate(-90 159.60 171.50)">Survival probability</text>
<text x="180.50" y="187.30" font-size="3.85" fill="#222" text-anchor="start" font-weight="normal" stroke="#222" stroke-width="0.12">p=0.001</text>
<text x="157.80" y="217.00" font-size="2.8" fill="#333" text-anchor="middle" font-weight="normal" stroke="#333" stroke-width="0.12" transform="rotate(-90 157.80 217.00)">Risk</text>
<text x="162.20" y="216.00" font-size="2.6" fill="#d42a3a" text-anchor="start" font-weight="normal" stroke="#d42a3a" stroke-width="0.12">High risk</text>
<text x="162.20" y="219.60" font-size="2.6" fill="#2a8aa0" text-anchor="start" font-weight="normal" stroke="#2a8aa0" stroke-width="0.12">Low risk</text>
<line x1="173.70" y1="212.00" x2="173.70" y2="221.75" stroke="#444" stroke-width="0.4"/>
<line x1="173.70" y1="221.75" x2="266.50" y2="221.75" stroke="#444" stroke-width="0.4"/>
<text x="178.50" y="216.00" font-size="2.6" fill="#d42a3a" text-anchor="middle" font-weight="normal" stroke="#d42a3a" stroke-width="0.12">48</text>
<text x="178.50" y="219.60" font-size="2.6" fill="#2a5a9a" text-anchor="middle" font-weight="normal" stroke="#2a5a9a" stroke-width="0.12">48</text>
<line x1="178.50" y1="221.75" x2="178.50" y2="222.60" stroke="#444" stroke-width="0.4"/>
<text x="178.50" y="224.20" font-size="2.4" fill="#333" text-anchor="middle" font-weight="normal" stroke="#333" stroke-width="0.12">0</text>
<text x="192.54" y="216.00" font-size="2.6" fill="#d42a3a" text-anchor="middle" font-weight="normal" stroke="#d42a3a" stroke-width="0.12">22</text>
<text x="192.54" y="219.60" font-size="2.6" fill="#2a5a9a" text-anchor="middle" font-weight="normal" stroke="#2a5a9a" stroke-width="0.12">37</text>
<line x1="192.54" y1="221.75" x2="192.54" y2="222.60" stroke="#444" stroke-width="0.4"/>
<text x="192.54" y="224.20" font-size="2.4" fill="#333" text-anchor="middle" font-weight="normal" stroke="#333" stroke-width="0.12">1</text>
<text x="206.58" y="216.00" font-size="2.6" fill="#d42a3a" text-anchor="middle" font-weight="normal" stroke="#d42a3a" stroke-width="0.12">8</text>
<text x="206.58" y="219.60" font-size="2.6" fill="#2a5a9a" text-anchor="middle" font-weight="normal" stroke="#2a5a9a" stroke-width="0.12">14</text>
<line x1="206.58" y1="221.75" x2="206.58" y2="222.60" stroke="#444" stroke-width="0.4"/>
<text x="206.58" y="224.20" font-size="2.4" fill="#333" text-anchor="middle" font-weight="normal" stroke="#333" stroke-width="0.12">2</text>
<text x="220.62" y="216.00" font-size="2.6" fill="#d42a3a" text-anchor="middle" font-weight="normal" stroke="#d42a3a" stroke-width="0.12">6</text>
<text x="220.62" y="219.60" font-size="2.6" fill="#2a5a9a" text-anchor="middle" font-weight="normal" stroke="#2a5a9a" stroke-width="0.12">6</text>
<line x1="220.62" y1="221.75" x2="220.62" y2="222.60" stroke="#444" stroke-width="0.4"/>
<text x="220.62" y="224.20" font-size="2.4" fill="#333" text-anchor="middle" font-weight="normal" stroke="#333" stroke-width="0.12">3</text>
<text x="234.66" y="216.00" font-size="2.6" fill="#d42a3a" text-anchor="middle" font-weight="normal" stroke="#d42a3a" stroke-width="0.12">1</text>
<text x="234.66" y="219.60" font-size="2.6" fill="#2a5a9a" text-anchor="middle" font-weight="normal" stroke="#2a5a9a" stroke-width="0.12">6</text>
<line x1="234.66" y1="221.75" x2="234.66" y2="222.60" stroke="#444" stroke-width="0.4"/>
<text x="234.66" y="224.20" font-size="2.4" fill="#333" text-anchor="middle" font-weight="normal" stroke="#333" stroke-width="0.12">4</text>
<text x="248.70" y="216.00" font-size="2.6" fill="#d42a3a" text-anchor="middle" font-weight="normal" stroke="#d42a3a" stroke-width="0.12">0</text>
<text x="248.70" y="219.60" font-size="2.6" fill="#2a5a9a" text-anchor="middle" font-weight="normal" stroke="#2a5a9a" stroke-width="0.12">2</text>
<line x1="248.70" y1="221.75" x2="248.70" y2="222.60" stroke="#444" stroke-width="0.4"/>
<text x="248.70" y="224.20" font-size="2.4" fill="#333" text-anchor="middle" font-weight="normal" stroke="#333" stroke-width="0.12">5</text>
<text x="262.74" y="216.00" font-size="2.6" fill="#d42a3a" text-anchor="middle" font-weight="normal" stroke="#d42a3a" stroke-width="0.12">0</text>
<text x="262.74" y="219.60" font-size="2.6" fill="#2a5a9a" text-anchor="middle" font-weight="normal" stroke="#2a5a9a" stroke-width="0.12">0</text>
<line x1="262.74" y1="221.75" x2="262.74" y2="222.60" stroke="#444" stroke-width="0.4"/>
<text x="262.74" y="224.20" font-size="2.4" fill="#333" text-anchor="middle" font-weight="normal" stroke="#333" stroke-width="0.12">6</text>
<text x="221.00" y="227.90" font-size="3.4" fill="#333" text-anchor="middle" font-weight="normal" stroke="#333" stroke-width="0.12">Time(years)</text>
<text x="265.80" y="135.00" font-size="8.6" fill="#000" text-anchor="start" font-weight="bold" stroke="#000" stroke-width="0.12">H</text>
<line x1="337.30" y1="140.20" x2="337.30" y2="181.20" stroke="#a0a0a0" stroke-width="0.4"/>
<rect x="282.10" y="140.20" width="110.40" height="41.00" fill="none" stroke="#9a9a9a" stroke-width="0.45"/>
<circle cx="290.2" cy="162.3" r="0.85" fill="#e8474b"/>
<circle cx="291.7" cy="162.75" r="0.85" fill="#e8474b"/>
<circle cx="299.5" cy="177.45" r="0.85" fill="#e8474b"/>
<circle cx="302.2" cy="177.45" r="0.85" fill="#e8474b"/>
<circle cx="303.25" cy="166.8" r="0.85" fill="#e8474b"/>
<circle cx="304" cy="171.3" r="0.85" fill="#e8474b"/>
<circle cx="316" cy="166.2" r="0.85" fill="#e8474b"/>
<circle cx="321.25" cy="176.25" r="0.85" fill="#e8474b"/>
<circle cx="323.5" cy="173.25" r="0.85" fill="#e8474b"/>
<circle cx="326.5" cy="141.3" r="0.85" fill="#e8474b"/>
<circle cx="327.7" cy="163" r="0.85" fill="#e8474b"/>
<circle cx="328.75" cy="167.5" r="0.85" fill="#e8474b"/>
<circle cx="331" cy="167.5" r="0.85" fill="#e8474b"/>
<circle cx="334" cy="173.25" r="0.85" fill="#e8474b"/>
<circle cx="335.8" cy="172.5" r="0.85" fill="#e8474b"/>
<circle cx="336.2" cy="172.2" r="0.85" fill="#e8474b"/>
<circle cx="344" cy="176.25" r="0.85" fill="#e8474b"/>
<circle cx="346.25" cy="177.75" r="0.85" fill="#e8474b"/>
<circle cx="348.8" cy="177.75" r="0.85" fill="#e8474b"/>
<circle cx="350.75" cy="178.2" r="0.85" fill="#e8474b"/>
<circle cx="346.7" cy="151.2" r="0.85" fill="#e8474b"/>
<circle cx="347.75" cy="155.25" r="0.85" fill="#e8474b"/>
<circle cx="354.2" cy="153.75" r="0.85" fill="#e8474b"/>
<circle cx="357.5" cy="169.2" r="0.85" fill="#e8474b"/>
<circle cx="357.2" cy="173.25" r="0.85" fill="#e8474b"/>
<circle cx="368" cy="173.7" r="0.85" fill="#e8474b"/>
<circle cx="367.25" cy="178.8" r="0.85" fill="#e8474b"/>
<circle cx="369.5" cy="169.2" r="0.85" fill="#e8474b"/>
<circle cx="372.5" cy="177.3" r="0.85" fill="#e8474b"/>
<circle cx="376.7" cy="164.7" r="0.85" fill="#e8474b"/>
<circle cx="376.25" cy="178.5" r="0.85" fill="#e8474b"/>
<circle cx="380" cy="171" r="0.85" fill="#e8474b"/>
<circle cx="381.5" cy="175.5" r="0.85" fill="#e8474b"/>
<circle cx="383" cy="174" r="0.85" fill="#e8474b"/>
<circle cx="384.5" cy="178.5" r="0.85" fill="#e8474b"/>
<circle cx="388.25" cy="177.3" r="0.85" fill="#e8474b"/>
<circle cx="325.75" cy="147.75" r="0.85" fill="#2f4a8c"/>
<circle cx="286" cy="166.2" r="0.85" fill="#2f4a8c"/>
<circle cx="287" cy="172.8" r="0.85" fill="#2f4a8c"/>
<circle cx="288.25" cy="173.25" r="0.85" fill="#2f4a8c"/>
<circle cx="289" cy="178.5" r="0.85" fill="#2f4a8c"/>
<circle cx="292.75" cy="168" r="0.85" fill="#2f4a8c"/>
<circle cx="293.8" cy="171.75" r="0.85" fill="#2f4a8c"/>
<circle cx="295" cy="172.8" r="0.85" fill="#2f4a8c"/>
<circle cx="295.75" cy="175.2" r="0.85" fill="#2f4a8c"/>
<circle cx="296.8" cy="173.25" r="0.85" fill="#2f4a8c"/>
<circle cx="298" cy="160.8" r="0.85" fill="#2f4a8c"/>
<circle cx="298.75" cy="168.75" r="0.85" fill="#2f4a8c"/>
<circle cx="301" cy="162" r="0.85" fill="#2f4a8c"/>
<circle cx="305.2" cy="174.75" r="0.85" fill="#2f4a8c"/>
<circle cx="306.7" cy="175.8" r="0.85" fill="#2f4a8c"/>
<circle cx="307.45" cy="167.55" r="0.85" fill="#2f4a8c"/>
<circle cx="308.5" cy="173.25" r="0.85" fill="#2f4a8c"/>
<circle cx="309.7" cy="171.75" r="0.85" fill="#2f4a8c"/>
<circle cx="310.75" cy="150.3" r="0.85" fill="#2f4a8c"/>
<circle cx="311.8" cy="172.8" r="0.85" fill="#2f4a8c"/>
<circle cx="312.7" cy="178.2" r="0.85" fill="#2f4a8c"/>
<circle cx="313.75" cy="171.3" r="0.85" fill="#2f4a8c"/>
<circle cx="314.8" cy="173.25" r="0.85" fill="#2f4a8c"/>
<circle cx="317" cy="160.5" r="0.85" fill="#2f4a8c"/>
<circle cx="318.25" cy="178.2" r="0.85" fill="#2f4a8c"/>
<circle cx="319.3" cy="172.8" r="0.85" fill="#2f4a8c"/>
<circle cx="320.2" cy="146.7" r="0.85" fill="#2f4a8c"/>
<circle cx="322.75" cy="173.55" r="0.85" fill="#2f4a8c"/>
<circle cx="324.25" cy="172.5" r="0.85" fill="#2f4a8c"/>
<circle cx="329.8" cy="173.25" r="0.85" fill="#2f4a8c"/>
<circle cx="331.75" cy="168.75" r="0.85" fill="#2f4a8c"/>
<circle cx="332.5" cy="157" r="0.85" fill="#2f4a8c"/>
<circle cx="336.7" cy="178.5" r="0.85" fill="#2f4a8c"/>
<circle cx="337.75" cy="179.25" r="0.85" fill="#2f4a8c"/>
<circle cx="339.25" cy="178.2" r="0.85" fill="#2f4a8c"/>
<circle cx="338" cy="178.2" r="0.85" fill="#2f4a8c"/>
<circle cx="339.5" cy="178.5" r="0.85" fill="#2f4a8c"/>
<circle cx="341" cy="177.75" r="0.85" fill="#2f4a8c"/>
<circle cx="343.25" cy="173.25" r="0.85" fill="#2f4a8c"/>
<circle cx="344.75" cy="173.25" r="0.85" fill="#2f4a8c"/>
<circle cx="350" cy="169.8" r="0.85" fill="#2f4a8c"/>
<circle cx="352.25" cy="168.75" r="0.85" fill="#2f4a8c"/>
<circle cx="353" cy="172.8" r="0.85" fill="#2f4a8c"/>
<circle cx="355.25" cy="164.7" r="0.85" fill="#2f4a8c"/>
<circle cx="359" cy="175.8" r="0.85" fill="#2f4a8c"/>
<circle cx="360.5" cy="175.8" r="0.85" fill="#2f4a8c"/>
<circle cx="362" cy="172.2" r="0.85" fill="#2f4a8c"/>
<circle cx="364.25" cy="171.75" r="0.85" fill="#2f4a8c"/>
<circle cx="363.5" cy="166.5" r="0.85" fill="#2f4a8c"/>
<circle cx="365.75" cy="156.45" r="0.85" fill="#2f4a8c"/>
<circle cx="370.25" cy="164.25" r="0.85" fill="#2f4a8c"/>
<circle cx="374" cy="168.75" r="0.85" fill="#2f4a8c"/>
<circle cx="371" cy="179.25" r="0.85" fill="#2f4a8c"/>
<circle cx="374.75" cy="177" r="0.85" fill="#2f4a8c"/>
<circle cx="377.75" cy="173.25" r="0.85" fill="#2f4a8c"/>
<circle cx="380.75" cy="180" r="0.85" fill="#2f4a8c"/>
<circle cx="382.7" cy="174.3" r="0.85" fill="#2f4a8c"/>
<circle cx="386" cy="172.8" r="0.85" fill="#2f4a8c"/>
<circle cx="286" cy="144.5" r="0.85" fill="#e8474b"/>
<circle cx="286" cy="149.4" r="0.85" fill="#2f4a8c"/>
<text x="288.60" y="145.80" font-size="3.7" fill="#222" text-anchor="start" font-weight="normal" stroke="#222" stroke-width="0.12">Dead</text>
<text x="288.60" y="150.70" font-size="3.7" fill="#222" text-anchor="start" font-weight="normal" stroke="#222" stroke-width="0.12">Alive</text>
<line x1="285.30" y1="181.20" x2="285.30" y2="182.30" stroke="#8a8a8a" stroke-width="0.4"/>
<text x="285.30" y="189.60" font-size="3.1" fill="#555" text-anchor="middle" font-weight="normal" stroke="#555" stroke-width="0.12">0</text>
<line x1="306.62" y1="181.20" x2="306.62" y2="182.30" stroke="#8a8a8a" stroke-width="0.4"/>
<text x="306.62" y="189.60" font-size="3.1" fill="#555" text-anchor="middle" font-weight="normal" stroke="#555" stroke-width="0.12">20</text>
<line x1="327.94" y1="181.20" x2="327.94" y2="182.30" stroke="#8a8a8a" stroke-width="0.4"/>
<text x="327.94" y="189.60" font-size="3.1" fill="#555" text-anchor="middle" font-weight="normal" stroke="#555" stroke-width="0.12">40</text>
<line x1="349.26" y1="181.20" x2="349.26" y2="182.30" stroke="#8a8a8a" stroke-width="0.4"/>
<text x="349.26" y="189.60" font-size="3.1" fill="#555" text-anchor="middle" font-weight="normal" stroke="#555" stroke-width="0.12">60</text>
<line x1="370.58" y1="181.20" x2="370.58" y2="182.30" stroke="#8a8a8a" stroke-width="0.4"/>
<text x="370.58" y="189.60" font-size="3.1" fill="#555" text-anchor="middle" font-weight="normal" stroke="#555" stroke-width="0.12">80</text>
<line x1="391.90" y1="181.20" x2="391.90" y2="182.30" stroke="#8a8a8a" stroke-width="0.4"/>
<text x="391.90" y="189.60" font-size="3.1" fill="#555" text-anchor="middle" font-weight="normal" stroke="#555" stroke-width="0.12">100</text>
<text x="336.50" y="197.20" font-size="3.1" fill="#555" text-anchor="middle" font-weight="normal" stroke="#555" stroke-width="0.12">Patients (increasing risk socre)</text>
<line x1="282.10" y1="140.65" x2="281.10" y2="140.65" stroke="#8a8a8a" stroke-width="0.4"/>
<text x="276.60" y="140.65" font-size="2.8" fill="#555" text-anchor="middle" font-weight="normal" stroke="#555" stroke-width="0.12" transform="rotate(-90 276.60 140.65)">8</text>
<line x1="282.10" y1="147.10" x2="281.10" y2="147.10" stroke="#8a8a8a" stroke-width="0.4"/>
<text x="276.60" y="147.10" font-size="2.8" fill="#555" text-anchor="middle" font-weight="normal" stroke="#555" stroke-width="0.12" transform="rotate(-90 276.60 147.10)">7</text>
<line x1="282.10" y1="153.80" x2="281.10" y2="153.80" stroke="#8a8a8a" stroke-width="0.4"/>
<text x="276.60" y="153.80" font-size="2.8" fill="#555" text-anchor="middle" font-weight="normal" stroke="#555" stroke-width="0.12" transform="rotate(-90 276.60 153.80)">6</text>
<line x1="282.10" y1="160.60" x2="281.10" y2="160.60" stroke="#8a8a8a" stroke-width="0.4"/>
<text x="276.60" y="160.60" font-size="2.8" fill="#555" text-anchor="middle" font-weight="normal" stroke="#555" stroke-width="0.12" transform="rotate(-90 276.60 160.60)">5</text>
<line x1="282.10" y1="166.90" x2="281.10" y2="166.90" stroke="#8a8a8a" stroke-width="0.4"/>
<text x="276.60" y="166.90" font-size="2.8" fill="#555" text-anchor="middle" font-weight="normal" stroke="#555" stroke-width="0.12" transform="rotate(-90 276.60 166.90)">4</text>
<line x1="282.10" y1="173.40" x2="281.10" y2="173.40" stroke="#8a8a8a" stroke-width="0.4"/>
<text x="276.60" y="173.40" font-size="2.8" fill="#555" text-anchor="middle" font-weight="normal" stroke="#555" stroke-width="0.12" transform="rotate(-90 276.60 173.40)">3</text>
<line x1="282.10" y1="179.50" x2="281.10" y2="179.50" stroke="#8a8a8a" stroke-width="0.4"/>
<text x="276.60" y="179.50" font-size="2.8" fill="#555" text-anchor="middle" font-weight="normal" stroke="#555" stroke-width="0.12" transform="rotate(-90 276.60 179.50)">2</text>
<text x="269.60" y="161.00" font-size="3.1" fill="#555" text-anchor="middle" font-weight="normal" stroke="#555" stroke-width="0.12" transform="rotate(-90 269.60 161.00)">Survival time (years)</text>
<line x1="337.30" y1="212.00" x2="337.30" y2="252.30" stroke="#a0a0a0" stroke-width="0.4"/>
<line x1="282.10" y1="249.20" x2="392.50" y2="249.20" stroke="#c4c4c4" stroke-width="0.4"/>
<circle cx="285.60" cy="251.00" r="0.7" fill="#2f4a8c"/>
<circle cx="286.67" cy="250.95" r="0.7" fill="#2f4a8c"/>
<circle cx="287.74" cy="250.90" r="0.7" fill="#2f4a8c"/>
<circle cx="288.81" cy="250.84" r="0.7" fill="#2f4a8c"/>
<circle cx="289.88" cy="250.79" r="0.7" fill="#2f4a8c"/>
<circle cx="290.95" cy="250.74" r="0.7" fill="#2f4a8c"/>
<circle cx="292.02" cy="250.69" r="0.7" fill="#2f4a8c"/>
<circle cx="293.09" cy="250.64" r="0.7" fill="#2f4a8c"/>
<circle cx="294.16" cy="250.58" r="0.7" fill="#2f4a8c"/>
<circle cx="295.23" cy="250.53" r="0.7" fill="#2f4a8c"/>
<circle cx="296.30" cy="250.48" r="0.7" fill="#2f4a8c"/>
<circle cx="297.37" cy="250.43" r="0.7" fill="#2f4a8c"/>
<circle cx="298.44" cy="250.38" r="0.7" fill="#2f4a8c"/>
<circle cx="299.51" cy="250.32" r="0.7" fill="#2f4a8c"/>
<circle cx="300.58" cy="250.28" r="0.7" fill="#2f4a8c"/>
<circle cx="301.65" cy="250.24" r="0.7" fill="#2f4a8c"/>
<circle cx="302.72" cy="250.20" r="0.7" fill="#2f4a8c"/>
<circle cx="303.79" cy="250.17" r="0.7" fill="#2f4a8c"/>
<circle cx="304.86" cy="250.13" r="0.7" fill="#2f4a8c"/>
<circle cx="305.93" cy="250.09" r="0.7" fill="#2f4a8c"/>
<circle cx="307.00" cy="250.06" r="0.7" fill="#2f4a8c"/>
<circle cx="308.07" cy="250.02" r="0.7" fill="#2f4a8c"/>
<circle cx="309.14" cy="249.98" r="0.7" fill="#2f4a8c"/>
<circle cx="310.21" cy="249.94" r="0.7" fill="#2f4a8c"/>
<circle cx="311.28" cy="249.91" r="0.7" fill="#2f4a8c"/>
<circle cx="312.35" cy="249.87" r="0.7" fill="#2f4a8c"/>
<circle cx="313.42" cy="249.83" r="0.7" fill="#2f4a8c"/>
<circle cx="314.49" cy="249.79" r="0.7" fill="#2f4a8c"/>
<circle cx="315.56" cy="249.76" r="0.7" fill="#2f4a8c"/>
<circle cx="316.63" cy="249.72" r="0.7" fill="#2f4a8c"/>
<circle cx="317.70" cy="249.68" r="0.7" fill="#2f4a8c"/>
<circle cx="318.77" cy="249.64" r="0.7" fill="#2f4a8c"/>
<circle cx="319.84" cy="249.61" r="0.7" fill="#2f4a8c"/>
<circle cx="320.91" cy="249.56" r="0.7" fill="#2f4a8c"/>
<circle cx="321.98" cy="249.52" r="0.7" fill="#2f4a8c"/>
<circle cx="323.05" cy="249.48" r="0.7" fill="#2f4a8c"/>
<circle cx="324.12" cy="249.43" r="0.7" fill="#2f4a8c"/>
<circle cx="325.19" cy="249.39" r="0.7" fill="#2f4a8c"/>
<circle cx="326.26" cy="249.35" r="0.7" fill="#2f4a8c"/>
<circle cx="327.33" cy="249.30" r="0.7" fill="#2f4a8c"/>
<circle cx="328.40" cy="249.26" r="0.7" fill="#2f4a8c"/>
<circle cx="329.47" cy="249.22" r="0.7" fill="#2f4a8c"/>
<circle cx="330.54" cy="249.17" r="0.7" fill="#2f4a8c"/>
<circle cx="331.61" cy="249.13" r="0.7" fill="#2f4a8c"/>
<circle cx="332.68" cy="249.09" r="0.7" fill="#2f4a8c"/>
<circle cx="333.75" cy="249.04" r="0.7" fill="#2f4a8c"/>
<circle cx="334.82" cy="249.00" r="0.7" fill="#2f4a8c"/>
<circle cx="335.89" cy="248.96" r="0.7" fill="#2f4a8c"/>
<circle cx="336.96" cy="248.91" r="0.7" fill="#2f4a8c"/>
<circle cx="338.03" cy="248.88" r="0.7" fill="#e8474b"/>
<circle cx="339.10" cy="248.84" r="0.7" fill="#e8474b"/>
<circle cx="340.17" cy="248.81" r="0.7" fill="#e8474b"/>
<circle cx="341.24" cy="248.78" r="0.7" fill="#e8474b"/>
<circle cx="342.31" cy="248.74" r="0.7" fill="#e8474b"/>
<circle cx="343.38" cy="248.71" r="0.7" fill="#e8474b"/>
<circle cx="344.45" cy="248.67" r="0.7" fill="#e8474b"/>
<circle cx="345.52" cy="248.64" r="0.7" fill="#e8474b"/>
<circle cx="346.59" cy="248.61" r="0.7" fill="#e8474b"/>
<circle cx="347.66" cy="248.57" r="0.7" fill="#e8474b"/>
<circle cx="348.73" cy="248.54" r="0.7" fill="#e8474b"/>
<circle cx="349.80" cy="248.51" r="0.7" fill="#e8474b"/>
<circle cx="350.87" cy="248.41" r="0.7" fill="#e8474b"/>
<circle cx="351.94" cy="248.31" r="0.7" fill="#e8474b"/>
<circle cx="353.01" cy="248.20" r="0.7" fill="#e8474b"/>
<circle cx="354.08" cy="248.09" r="0.7" fill="#e8474b"/>
<circle cx="355.15" cy="247.99" r="0.7" fill="#e8474b"/>
<circle cx="356.22" cy="247.88" r="0.7" fill="#e8474b"/>
<circle cx="357.29" cy="247.77" r="0.7" fill="#e8474b"/>
<circle cx="358.36" cy="247.66" r="0.7" fill="#e8474b"/>
<circle cx="359.43" cy="247.56" r="0.7" fill="#e8474b"/>
<circle cx="360.50" cy="247.45" r="0.7" fill="#e8474b"/>
<circle cx="361.57" cy="247.34" r="0.7" fill="#e8474b"/>
<circle cx="362.64" cy="247.24" r="0.7" fill="#e8474b"/>
<circle cx="363.71" cy="247.13" r="0.7" fill="#e8474b"/>
<circle cx="364.78" cy="247.02" r="0.7" fill="#e8474b"/>
<circle cx="365.85" cy="246.83" r="0.7" fill="#e8474b"/>
<circle cx="366.92" cy="246.62" r="0.7" fill="#e8474b"/>
<circle cx="367.99" cy="246.40" r="0.7" fill="#e8474b"/>
<circle cx="369.06" cy="246.19" r="0.7" fill="#e8474b"/>
<circle cx="370.13" cy="245.97" r="0.7" fill="#e8474b"/>
<circle cx="371.20" cy="245.76" r="0.7" fill="#e8474b"/>
<circle cx="372.27" cy="245.55" r="0.7" fill="#e8474b"/>
<circle cx="373.34" cy="245.18" r="0.7" fill="#e8474b"/>
<circle cx="374.41" cy="244.76" r="0.7" fill="#e8474b"/>
<circle cx="375.48" cy="244.35" r="0.7" fill="#e8474b"/>
<circle cx="376.55" cy="243.93" r="0.7" fill="#e8474b"/>
<circle cx="377.62" cy="243.52" r="0.7" fill="#e8474b"/>
<circle cx="378.69" cy="243.11" r="0.7" fill="#e8474b"/>
<circle cx="379.76" cy="242.69" r="0.7" fill="#e8474b"/>
<circle cx="380.83" cy="242.03" r="0.7" fill="#e8474b"/>
<circle cx="381.90" cy="241.29" r="0.7" fill="#e8474b"/>
<circle cx="382.97" cy="240.55" r="0.7" fill="#e8474b"/>
<circle cx="384.04" cy="239.82" r="0.7" fill="#e8474b"/>
<circle cx="385.11" cy="238.61" r="0.7" fill="#e8474b"/>
<circle cx="386.18" cy="237.04" r="0.7" fill="#e8474b"/>
<circle cx="387.8" cy="213.25" r="0.9" fill="#7a3a5a"/>
<rect x="282.10" y="212.00" width="110.40" height="40.30" fill="none" stroke="#9a9a9a" stroke-width="0.45"/>
<circle cx="285.6" cy="216.5" r="0.85" fill="#e8474b"/>
<circle cx="285.6" cy="221.4" r="0.85" fill="#2f4a8c"/>
<text x="288.20" y="217.80" font-size="3.7" fill="#222" text-anchor="start" font-weight="normal" stroke="#222" stroke-width="0.12">High risk</text>
<text x="288.20" y="222.70" font-size="3.7" fill="#222" text-anchor="start" font-weight="normal" stroke="#222" stroke-width="0.12">Low Risk</text>
<line x1="282.10" y1="213.10" x2="281.10" y2="213.10" stroke="#8a8a8a" stroke-width="0.4"/>
<text x="276.60" y="213.10" font-size="2.8" fill="#555" text-anchor="middle" font-weight="normal" stroke="#555" stroke-width="0.12" transform="rotate(-90 276.60 213.10)">10</text>
<line x1="282.10" y1="221.25" x2="281.10" y2="221.25" stroke="#8a8a8a" stroke-width="0.4"/>
<text x="276.60" y="221.25" font-size="2.8" fill="#555" text-anchor="middle" font-weight="normal" stroke="#555" stroke-width="0.12" transform="rotate(-90 276.60 221.25)">8</text>
<line x1="282.10" y1="229.40" x2="281.10" y2="229.40" stroke="#8a8a8a" stroke-width="0.4"/>
<text x="276.60" y="229.40" font-size="2.8" fill="#555" text-anchor="middle" font-weight="normal" stroke="#555" stroke-width="0.12" transform="rotate(-90 276.60 229.40)">6</text>
<line x1="282.10" y1="237.50" x2="281.10" y2="237.50" stroke="#8a8a8a" stroke-width="0.4"/>
<text x="276.60" y="237.50" font-size="2.8" fill="#555" text-anchor="middle" font-weight="normal" stroke="#555" stroke-width="0.12" transform="rotate(-90 276.60 237.50)">4</text>
<line x1="282.10" y1="245.60" x2="281.10" y2="245.60" stroke="#8a8a8a" stroke-width="0.4"/>
<text x="276.60" y="245.60" font-size="2.8" fill="#555" text-anchor="middle" font-weight="normal" stroke="#555" stroke-width="0.12" transform="rotate(-90 276.60 245.60)">2</text>
<text x="270.00" y="232.50" font-size="3.1" fill="#555" text-anchor="middle" font-weight="normal" stroke="#555" stroke-width="0.12" transform="rotate(-90 270.00 232.50)">Risk score</text>
<line x1="285.30" y1="252.30" x2="285.30" y2="253.40" stroke="#8a8a8a" stroke-width="0.4"/>
<text x="285.30" y="260.90" font-size="3.1" fill="#555" text-anchor="middle" font-weight="normal" stroke="#555" stroke-width="0.12">0</text>
<line x1="306.62" y1="252.30" x2="306.62" y2="253.40" stroke="#8a8a8a" stroke-width="0.4"/>
<text x="306.62" y="260.90" font-size="3.1" fill="#555" text-anchor="middle" font-weight="normal" stroke="#555" stroke-width="0.12">20</text>
<line x1="327.94" y1="252.30" x2="327.94" y2="253.40" stroke="#8a8a8a" stroke-width="0.4"/>
<text x="327.94" y="260.90" font-size="3.1" fill="#555" text-anchor="middle" font-weight="normal" stroke="#555" stroke-width="0.12">40</text>
<line x1="349.26" y1="252.30" x2="349.26" y2="253.40" stroke="#8a8a8a" stroke-width="0.4"/>
<text x="349.26" y="260.90" font-size="3.1" fill="#555" text-anchor="middle" font-weight="normal" stroke="#555" stroke-width="0.12">60</text>
<line x1="370.58" y1="252.30" x2="370.58" y2="253.40" stroke="#8a8a8a" stroke-width="0.4"/>
<text x="370.58" y="260.90" font-size="3.1" fill="#555" text-anchor="middle" font-weight="normal" stroke="#555" stroke-width="0.12">80</text>
<line x1="391.90" y1="252.30" x2="391.90" y2="253.40" stroke="#8a8a8a" stroke-width="0.4"/>
<text x="391.90" y="260.90" font-size="3.1" fill="#555" text-anchor="middle" font-weight="normal" stroke="#555" stroke-width="0.12">100</text>
<text x="336.50" y="267.90" font-size="3.1" fill="#555" text-anchor="middle" font-weight="normal" stroke="#555" stroke-width="0.12">Patients (increasing risk socre)</text>
<rect x="276.80" y="279.00" width="3.11" height="22.00" fill="rgb(217,216,234)" stroke="none" stroke-width="0.5"/>
<rect x="279.85" y="279.00" width="3.11" height="22.00" fill="rgb(238,227,229)" stroke="none" stroke-width="0.5"/>
<rect x="282.90" y="279.00" width="2.09" height="22.00" fill="rgb(231,229,239)" stroke="none" stroke-width="0.5"/>
<rect x="284.93" y="279.00" width="1.08" height="22.00" fill="rgb(225,223,237)" stroke="none" stroke-width="0.5"/>
<rect x="285.95" y="279.00" width="2.09" height="22.00" fill="rgb(238,230,232)" stroke="none" stroke-width="0.5"/>
<rect x="287.98" y="279.00" width="1.08" height="22.00" fill="rgb(225,224,237)" stroke="none" stroke-width="0.5"/>
<rect x="289.00" y="279.00" width="1.08" height="22.00" fill="rgb(205,203,230)" stroke="none" stroke-width="0.5"/>
<rect x="290.02" y="279.00" width="2.09" height="22.00" fill="rgb(227,225,237)" stroke="none" stroke-width="0.5"/>
<rect x="292.05" y="279.00" width="1.08" height="22.00" fill="rgb(238,228,230)" stroke="none" stroke-width="0.5"/>
<rect x="293.07" y="279.00" width="1.08" height="22.00" fill="rgb(237,225,227)" stroke="none" stroke-width="0.5"/>
<rect x="294.08" y="279.00" width="1.08" height="22.00" fill="rgb(222,221,236)" stroke="none" stroke-width="0.5"/>
<rect x="295.10" y="279.00" width="1.08" height="22.00" fill="rgb(238,229,231)" stroke="none" stroke-width="0.5"/>
<rect x="296.12" y="279.00" width="1.08" height="22.00" fill="rgb(181,180,222)" stroke="none" stroke-width="0.5"/>
<rect x="297.13" y="279.00" width="1.08" height="22.00" fill="rgb(209,207,231)" stroke="none" stroke-width="0.5"/>
<rect x="298.15" y="279.00" width="2.09" height="22.00" fill="rgb(211,209,232)" stroke="none" stroke-width="0.5"/>
<rect x="300.18" y="279.00" width="1.08" height="22.00" fill="rgb(237,225,227)" stroke="none" stroke-width="0.5"/>
<rect x="301.20" y="279.00" width="2.09" height="22.00" fill="rgb(227,225,238)" stroke="none" stroke-width="0.5"/>
<rect x="303.23" y="279.00" width="2.09" height="22.00" fill="rgb(237,225,227)" stroke="none" stroke-width="0.5"/>
<rect x="305.27" y="279.00" width="2.09" height="22.00" fill="rgb(230,228,239)" stroke="none" stroke-width="0.5"/>
<rect x="307.30" y="279.00" width="2.09" height="22.00" fill="rgb(192,191,225)" stroke="none" stroke-width="0.5"/>
<rect x="309.33" y="279.00" width="1.08" height="22.00" fill="rgb(237,225,227)" stroke="none" stroke-width="0.5"/>
<rect x="310.35" y="279.00" width="2.09" height="22.00" fill="rgb(237,225,227)" stroke="none" stroke-width="0.5"/>
<rect x="312.38" y="279.00" width="1.08" height="22.00" fill="rgb(193,192,226)" stroke="none" stroke-width="0.5"/>
<rect x="313.40" y="279.00" width="1.08" height="22.00" fill="rgb(210,209,232)" stroke="none" stroke-width="0.5"/>
<rect x="314.42" y="279.00" width="1.08" height="22.00" fill="rgb(219,217,235)" stroke="none" stroke-width="0.5"/>
<rect x="315.43" y="279.00" width="1.08" height="22.00" fill="rgb(174,173,219)" stroke="none" stroke-width="0.5"/>
<rect x="316.45" y="279.00" width="2.09" height="22.00" fill="rgb(205,203,230)" stroke="none" stroke-width="0.5"/>
<rect x="318.48" y="279.00" width="2.09" height="22.00" fill="rgb(238,228,230)" stroke="none" stroke-width="0.5"/>
<rect x="320.52" y="279.00" width="2.09" height="22.00" fill="rgb(230,228,239)" stroke="none" stroke-width="0.5"/>
<rect x="322.55" y="279.00" width="1.08" height="22.00" fill="rgb(226,224,237)" stroke="none" stroke-width="0.5"/>
<rect x="323.57" y="279.00" width="3.11" height="22.00" fill="rgb(191,189,225)" stroke="none" stroke-width="0.5"/>
<rect x="326.62" y="279.00" width="3.11" height="22.00" fill="rgb(227,225,237)" stroke="none" stroke-width="0.5"/>
<rect x="329.67" y="279.00" width="2.09" height="22.00" fill="rgb(233,231,240)" stroke="none" stroke-width="0.5"/>
<rect x="331.70" y="279.00" width="2.09" height="22.00" fill="rgb(225,143,142)" stroke="none" stroke-width="0.5"/>
<rect x="333.73" y="279.00" width="1.08" height="22.00" fill="rgb(235,210,211)" stroke="none" stroke-width="0.5"/>
<rect x="334.75" y="279.00" width="2.09" height="22.00" fill="rgb(238,228,230)" stroke="none" stroke-width="0.5"/>
<rect x="336.78" y="279.00" width="3.11" height="22.00" fill="rgb(237,220,222)" stroke="none" stroke-width="0.5"/>
<rect x="339.83" y="279.00" width="1.08" height="22.00" fill="rgb(231,182,182)" stroke="none" stroke-width="0.5"/>
<rect x="340.85" y="279.00" width="1.08" height="22.00" fill="rgb(228,164,164)" stroke="none" stroke-width="0.5"/>
<rect x="341.87" y="279.00" width="2.09" height="22.00" fill="rgb(235,213,214)" stroke="none" stroke-width="0.5"/>
<rect x="343.90" y="279.00" width="1.08" height="22.00" fill="rgb(236,214,216)" stroke="none" stroke-width="0.5"/>
<rect x="344.92" y="279.00" width="3.11" height="22.00" fill="rgb(232,188,188)" stroke="none" stroke-width="0.5"/>
<rect x="347.97" y="279.00" width="2.09" height="22.00" fill="rgb(226,147,146)" stroke="none" stroke-width="0.5"/>
<rect x="350.00" y="279.00" width="2.09" height="22.00" fill="rgb(235,211,213)" stroke="none" stroke-width="0.5"/>
<rect x="352.03" y="279.00" width="2.09" height="22.00" fill="rgb(230,178,178)" stroke="none" stroke-width="0.5"/>
<rect x="354.07" y="279.00" width="2.09" height="22.00" fill="rgb(231,229,239)" stroke="none" stroke-width="0.5"/>
<rect x="356.10" y="279.00" width="3.11" height="22.00" fill="rgb(231,181,181)" stroke="none" stroke-width="0.5"/>
<rect x="359.15" y="279.00" width="2.09" height="22.00" fill="rgb(211,209,232)" stroke="none" stroke-width="0.5"/>
<rect x="361.18" y="279.00" width="2.09" height="22.00" fill="rgb(238,228,230)" stroke="none" stroke-width="0.5"/>
<rect x="363.22" y="279.00" width="2.09" height="22.00" fill="rgb(226,149,148)" stroke="none" stroke-width="0.5"/>
<rect x="365.25" y="279.00" width="1.08" height="22.00" fill="rgb(233,194,195)" stroke="none" stroke-width="0.5"/>
<rect x="366.27" y="279.00" width="2.09" height="22.00" fill="rgb(232,192,192)" stroke="none" stroke-width="0.5"/>
<rect x="368.30" y="279.00" width="2.09" height="22.00" fill="rgb(236,217,219)" stroke="none" stroke-width="0.5"/>
<rect x="370.33" y="279.00" width="2.09" height="22.00" fill="rgb(225,146,144)" stroke="none" stroke-width="0.5"/>
<rect x="372.37" y="279.00" width="2.09" height="22.00" fill="rgb(218,99,96)" stroke="none" stroke-width="0.5"/>
<rect x="276.80" y="301.00" width="1.08" height="23.00" fill="rgb(185,184,223)" stroke="none" stroke-width="0.5"/>
<rect x="277.82" y="301.00" width="2.09" height="23.00" fill="rgb(224,222,236)" stroke="none" stroke-width="0.5"/>
<rect x="279.85" y="301.00" width="2.09" height="23.00" fill="rgb(183,182,222)" stroke="none" stroke-width="0.5"/>
<rect x="281.88" y="301.00" width="3.11" height="23.00" fill="rgb(171,170,218)" stroke="none" stroke-width="0.5"/>
<rect x="284.93" y="301.00" width="3.11" height="23.00" fill="rgb(189,187,224)" stroke="none" stroke-width="0.5"/>
<rect x="287.98" y="301.00" width="2.09" height="23.00" fill="rgb(194,193,226)" stroke="none" stroke-width="0.5"/>
<rect x="290.02" y="301.00" width="2.09" height="23.00" fill="rgb(189,188,224)" stroke="none" stroke-width="0.5"/>
<rect x="292.05" y="301.00" width="1.08" height="23.00" fill="rgb(203,202,229)" stroke="none" stroke-width="0.5"/>
<rect x="293.07" y="301.00" width="1.08" height="23.00" fill="rgb(238,227,229)" stroke="none" stroke-width="0.5"/>
<rect x="294.08" y="301.00" width="1.08" height="23.00" fill="rgb(232,230,239)" stroke="none" stroke-width="0.5"/>
<rect x="295.10" y="301.00" width="1.08" height="23.00" fill="rgb(237,225,227)" stroke="none" stroke-width="0.5"/>
<rect x="296.12" y="301.00" width="3.11" height="23.00" fill="rgb(225,223,237)" stroke="none" stroke-width="0.5"/>
<rect x="299.17" y="301.00" width="3.11" height="23.00" fill="rgb(226,224,237)" stroke="none" stroke-width="0.5"/>
<rect x="302.22" y="301.00" width="1.08" height="23.00" fill="rgb(225,224,237)" stroke="none" stroke-width="0.5"/>
<rect x="303.23" y="301.00" width="2.09" height="23.00" fill="rgb(237,225,227)" stroke="none" stroke-width="0.5"/>
<rect x="305.27" y="301.00" width="2.09" height="23.00" fill="rgb(223,221,236)" stroke="none" stroke-width="0.5"/>
<rect x="307.30" y="301.00" width="1.08" height="23.00" fill="rgb(171,170,218)" stroke="none" stroke-width="0.5"/>
<rect x="308.32" y="301.00" width="2.09" height="23.00" fill="rgb(224,222,236)" stroke="none" stroke-width="0.5"/>
<rect x="310.35" y="301.00" width="3.11" height="23.00" fill="rgb(215,213,233)" stroke="none" stroke-width="0.5"/>
<rect x="313.40" y="301.00" width="2.09" height="23.00" fill="rgb(207,206,231)" stroke="none" stroke-width="0.5"/>
<rect x="315.43" y="301.00" width="3.11" height="23.00" fill="rgb(171,170,218)" stroke="none" stroke-width="0.5"/>
<rect x="318.48" y="301.00" width="1.08" height="23.00" fill="rgb(215,214,233)" stroke="none" stroke-width="0.5"/>
<rect x="319.50" y="301.00" width="1.08" height="23.00" fill="rgb(228,226,238)" stroke="none" stroke-width="0.5"/>
<rect x="320.52" y="301.00" width="3.11" height="23.00" fill="rgb(234,204,205)" stroke="none" stroke-width="0.5"/>
<rect x="323.57" y="301.00" width="2.09" height="23.00" fill="rgb(237,224,225)" stroke="none" stroke-width="0.5"/>
<rect x="325.60" y="301.00" width="3.11" height="23.00" fill="rgb(232,188,189)" stroke="none" stroke-width="0.5"/>
<rect x="328.65" y="301.00" width="3.11" height="23.00" fill="rgb(231,229,239)" stroke="none" stroke-width="0.5"/>
<rect x="331.70" y="301.00" width="2.09" height="23.00" fill="rgb(225,145,144)" stroke="none" stroke-width="0.5"/>
<rect x="333.73" y="301.00" width="2.09" height="23.00" fill="rgb(234,202,203)" stroke="none" stroke-width="0.5"/>
<rect x="335.77" y="301.00" width="1.08" height="23.00" fill="rgb(236,219,220)" stroke="none" stroke-width="0.5"/>
<rect x="336.78" y="301.00" width="2.09" height="23.00" fill="rgb(237,225,227)" stroke="none" stroke-width="0.5"/>
<rect x="338.82" y="301.00" width="2.09" height="23.00" fill="rgb(237,223,225)" stroke="none" stroke-width="0.5"/>
<rect x="340.85" y="301.00" width="3.11" height="23.00" fill="rgb(232,188,189)" stroke="none" stroke-width="0.5"/>
<rect x="343.90" y="301.00" width="1.08" height="23.00" fill="rgb(236,216,217)" stroke="none" stroke-width="0.5"/>
<rect x="344.92" y="301.00" width="2.09" height="23.00" fill="rgb(215,213,233)" stroke="none" stroke-width="0.5"/>
<rect x="346.95" y="301.00" width="1.08" height="23.00" fill="rgb(231,184,184)" stroke="none" stroke-width="0.5"/>
<rect x="347.97" y="301.00" width="2.09" height="23.00" fill="rgb(227,154,153)" stroke="none" stroke-width="0.5"/>
<rect x="350.00" y="301.00" width="3.11" height="23.00" fill="rgb(226,150,149)" stroke="none" stroke-width="0.5"/>
<rect x="353.05" y="301.00" width="1.08" height="23.00" fill="rgb(237,221,223)" stroke="none" stroke-width="0.5"/>
<rect x="354.07" y="301.00" width="2.09" height="23.00" fill="rgb(238,229,231)" stroke="none" stroke-width="0.5"/>
<rect x="356.10" y="301.00" width="3.11" height="23.00" fill="rgb(228,163,162)" stroke="none" stroke-width="0.5"/>
<rect x="359.15" y="301.00" width="3.11" height="23.00" fill="rgb(215,213,233)" stroke="none" stroke-width="0.5"/>
<rect x="362.20" y="301.00" width="1.08" height="23.00" fill="rgb(226,149,147)" stroke="none" stroke-width="0.5"/>
<rect x="363.22" y="301.00" width="3.11" height="23.00" fill="rgb(237,225,227)" stroke="none" stroke-width="0.5"/>
<rect x="366.27" y="301.00" width="2.09" height="23.00" fill="rgb(233,196,197)" stroke="none" stroke-width="0.5"/>
<rect x="368.30" y="301.00" width="1.08" height="23.00" fill="rgb(223,132,131)" stroke="none" stroke-width="0.5"/>
<rect x="369.32" y="301.00" width="1.08" height="23.00" fill="rgb(232,192,192)" stroke="none" stroke-width="0.5"/>
<rect x="370.33" y="301.00" width="2.09" height="23.00" fill="rgb(232,191,192)" stroke="none" stroke-width="0.5"/>
<rect x="372.37" y="301.00" width="3.11" height="23.00" fill="rgb(233,199,199)" stroke="none" stroke-width="0.5"/>
<rect x="276.80" y="324.00" width="3.11" height="23.00" fill="rgb(221,219,235)" stroke="none" stroke-width="0.5"/>
<rect x="279.85" y="324.00" width="1.08" height="23.00" fill="rgb(229,228,238)" stroke="none" stroke-width="0.5"/>
<rect x="280.87" y="324.00" width="2.09" height="23.00" fill="rgb(221,219,235)" stroke="none" stroke-width="0.5"/>
<rect x="282.90" y="324.00" width="1.08" height="23.00" fill="rgb(171,170,218)" stroke="none" stroke-width="0.5"/>
<rect x="283.92" y="324.00" width="2.09" height="23.00" fill="rgb(237,225,227)" stroke="none" stroke-width="0.5"/>
<rect x="285.95" y="324.00" width="1.08" height="23.00" fill="rgb(223,221,236)" stroke="none" stroke-width="0.5"/>
<rect x="286.97" y="324.00" width="1.08" height="23.00" fill="rgb(209,207,231)" stroke="none" stroke-width="0.5"/>
<rect x="287.98" y="324.00" width="1.08" height="23.00" fill="rgb(237,225,227)" stroke="none" stroke-width="0.5"/>
<rect x="289.00" y="324.00" width="2.09" height="23.00" fill="rgb(222,221,236)" stroke="none" stroke-width="0.5"/>
<rect x="291.03" y="324.00" width="1.08" height="23.00" fill="rgb(233,231,240)" stroke="none" stroke-width="0.5"/>
<rect x="292.05" y="324.00" width="1.08" height="23.00" fill="rgb(214,212,233)" stroke="none" stroke-width="0.5"/>
<rect x="293.07" y="324.00" width="1.08" height="23.00" fill="rgb(205,204,230)" stroke="none" stroke-width="0.5"/>
<rect x="294.08" y="324.00" width="3.11" height="23.00" fill="rgb(171,170,218)" stroke="none" stroke-width="0.5"/>
<rect x="297.13" y="324.00" width="1.08" height="23.00" fill="rgb(221,220,236)" stroke="none" stroke-width="0.5"/>
<rect x="298.15" y="324.00" width="1.08" height="23.00" fill="rgb(189,187,224)" stroke="none" stroke-width="0.5"/>
<rect x="299.17" y="324.00" width="2.09" height="23.00" fill="rgb(233,231,240)" stroke="none" stroke-width="0.5"/>
<rect x="301.20" y="324.00" width="1.08" height="23.00" fill="rgb(197,196,227)" stroke="none" stroke-width="0.5"/>
<rect x="302.22" y="324.00" width="3.11" height="23.00" fill="rgb(189,187,224)" stroke="none" stroke-width="0.5"/>
<rect x="305.27" y="324.00" width="3.11" height="23.00" fill="rgb(222,220,236)" stroke="none" stroke-width="0.5"/>
<rect x="308.32" y="324.00" width="1.08" height="23.00" fill="rgb(197,195,227)" stroke="none" stroke-width="0.5"/>
<rect x="309.33" y="324.00" width="2.09" height="23.00" fill="rgb(189,188,224)" stroke="none" stroke-width="0.5"/>
<rect x="311.37" y="324.00" width="2.09" height="23.00" fill="rgb(201,199,228)" stroke="none" stroke-width="0.5"/>
<rect x="313.40" y="324.00" width="2.09" height="23.00" fill="rgb(219,217,235)" stroke="none" stroke-width="0.5"/>
<rect x="315.43" y="324.00" width="1.08" height="23.00" fill="rgb(237,225,227)" stroke="none" stroke-width="0.5"/>
<rect x="316.45" y="324.00" width="1.08" height="23.00" fill="rgb(213,211,233)" stroke="none" stroke-width="0.5"/>
<rect x="317.47" y="324.00" width="1.08" height="23.00" fill="rgb(209,208,231)" stroke="none" stroke-width="0.5"/>
<rect x="318.48" y="324.00" width="2.09" height="23.00" fill="rgb(184,183,223)" stroke="none" stroke-width="0.5"/>
<rect x="320.52" y="324.00" width="1.08" height="23.00" fill="rgb(216,215,234)" stroke="none" stroke-width="0.5"/>
<rect x="321.53" y="324.00" width="2.09" height="23.00" fill="rgb(231,229,239)" stroke="none" stroke-width="0.5"/>
<rect x="323.57" y="324.00" width="1.08" height="23.00" fill="rgb(230,228,238)" stroke="none" stroke-width="0.5"/>
<rect x="324.58" y="324.00" width="1.08" height="23.00" fill="rgb(231,186,186)" stroke="none" stroke-width="0.5"/>
<rect x="325.60" y="324.00" width="1.08" height="23.00" fill="rgb(226,224,237)" stroke="none" stroke-width="0.5"/>
<rect x="326.62" y="324.00" width="2.09" height="23.00" fill="rgb(225,223,237)" stroke="none" stroke-width="0.5"/>
<rect x="328.65" y="324.00" width="3.11" height="23.00" fill="rgb(233,196,197)" stroke="none" stroke-width="0.5"/>
<rect x="331.70" y="324.00" width="2.09" height="23.00" fill="rgb(226,224,237)" stroke="none" stroke-width="0.5"/>
<rect x="333.73" y="324.00" width="2.09" height="23.00" fill="rgb(228,166,165)" stroke="none" stroke-width="0.5"/>
<rect x="335.77" y="324.00" width="2.09" height="23.00" fill="rgb(236,215,217)" stroke="none" stroke-width="0.5"/>
<rect x="337.80" y="324.00" width="1.08" height="23.00" fill="rgb(235,210,212)" stroke="none" stroke-width="0.5"/>
<rect x="338.82" y="324.00" width="1.08" height="23.00" fill="rgb(230,180,180)" stroke="none" stroke-width="0.5"/>
<rect x="339.83" y="324.00" width="2.09" height="23.00" fill="rgb(233,196,197)" stroke="none" stroke-width="0.5"/>
<rect x="341.87" y="324.00" width="2.09" height="23.00" fill="rgb(204,202,229)" stroke="none" stroke-width="0.5"/>
<rect x="343.90" y="324.00" width="2.09" height="23.00" fill="rgb(231,185,185)" stroke="none" stroke-width="0.5"/>
<rect x="345.93" y="324.00" width="1.08" height="23.00" fill="rgb(224,133,132)" stroke="none" stroke-width="0.5"/>
<rect x="346.95" y="324.00" width="3.11" height="23.00" fill="rgb(228,166,166)" stroke="none" stroke-width="0.5"/>
<rect x="350.00" y="324.00" width="1.08" height="23.00" fill="rgb(237,221,223)" stroke="none" stroke-width="0.5"/>
<rect x="351.02" y="324.00" width="2.09" height="23.00" fill="rgb(222,220,236)" stroke="none" stroke-width="0.5"/>
<rect x="353.05" y="324.00" width="1.08" height="23.00" fill="rgb(235,213,215)" stroke="none" stroke-width="0.5"/>
<rect x="354.07" y="324.00" width="1.08" height="23.00" fill="rgb(226,224,237)" stroke="none" stroke-width="0.5"/>
<rect x="355.08" y="324.00" width="2.09" height="23.00" fill="rgb(236,218,219)" stroke="none" stroke-width="0.5"/>
<rect x="357.12" y="324.00" width="1.08" height="23.00" fill="rgb(226,224,237)" stroke="none" stroke-width="0.5"/>
<rect x="358.13" y="324.00" width="3.11" height="23.00" fill="rgb(208,206,231)" stroke="none" stroke-width="0.5"/>
<rect x="361.18" y="324.00" width="2.09" height="23.00" fill="rgb(214,70,66)" stroke="none" stroke-width="0.5"/>
<rect x="363.22" y="324.00" width="2.09" height="23.00" fill="rgb(230,173,173)" stroke="none" stroke-width="0.5"/>
<rect x="365.25" y="324.00" width="3.11" height="23.00" fill="rgb(228,163,163)" stroke="none" stroke-width="0.5"/>
<rect x="368.30" y="324.00" width="1.08" height="23.00" fill="rgb(237,221,223)" stroke="none" stroke-width="0.5"/>
<rect x="369.32" y="324.00" width="1.08" height="23.00" fill="rgb(230,174,174)" stroke="none" stroke-width="0.5"/>
<rect x="370.33" y="324.00" width="3.11" height="23.00" fill="rgb(213,212,233)" stroke="none" stroke-width="0.5"/>
<rect x="373.38" y="324.00" width="2.09" height="23.00" fill="rgb(237,226,228)" stroke="none" stroke-width="0.5"/>
<rect x="276.80" y="276.60" width="46.70" height="2.00" fill="#4a5688" stroke="none" stroke-width="0.5"/>
<rect x="323.50" y="276.60" width="50.90" height="2.00" fill="#b84a64" stroke="none" stroke-width="0.5"/>
<text x="376.00" y="278.60" font-size="2.0" fill="#333" text-anchor="start" font-weight="normal" stroke="#333" stroke-width="0.12">Risk</text>
<text x="376.40" y="291.40" font-size="1.8" fill="#333" text-anchor="start" font-weight="normal" stroke="#333" stroke-width="0.12">AC016876.2</text>
<text x="376.40" y="313.00" font-size="1.8" fill="#333" text-anchor="start" font-weight="normal" stroke="#333" stroke-width="0.12">AC025166.1</text>
<text x="376.40" y="336.40" font-size="1.8" fill="#333" text-anchor="start" font-weight="normal" stroke="#333" stroke-width="0.12">LINC01612</text>
<defs><linearGradient id="cs" x1="0" y1="0" x2="0" y2="1"><stop offset="0" stop-color="#d82a3e"/><stop offset="0.3" stop-color="#dc3446"/><stop offset="0.49" stop-color="#f2eef2"/><stop offset="0.62" stop-color="#5a68a4"/><stop offset="1" stop-color="#34488a"/></linearGradient></defs>
<rect x="388.00" y="276.60" width="2.90" height="37.40" fill="url(#cs)" stroke="none" stroke-width="0.5"/>
<text x="391.50" y="277.80" font-size="1.8" fill="#444" text-anchor="start" font-weight="normal" stroke="#444" stroke-width="0.12">2</text>
<text x="391.50" y="295.60" font-size="1.8" fill="#444" text-anchor="start" font-weight="normal" stroke="#444" stroke-width="0.12">0</text>
<text x="391.50" y="313.20" font-size="1.8" fill="#444" text-anchor="start" font-weight="normal" stroke="#444" stroke-width="0.12">-2</text>
<rect x="393.80" y="277.40" width="2.60" height="2.60" fill="#b04060" stroke="none" stroke-width="0.5"/>
<rect x="393.80" y="280.40" width="2.60" height="2.60" fill="#704a80" stroke="none" stroke-width="0.5"/>
<text x="393.30" y="276.90" font-size="1.6" fill="#444" text-anchor="start" font-weight="normal" stroke="#444" stroke-width="0.12">Risk</text>
<text x="17.60" y="237.30" font-size="8.6" fill="#000" text-anchor="start" font-weight="bold" stroke="#000" stroke-width="0.12">F</text>
<text x="80.00" y="237.20" font-size="4.6" fill="#222" text-anchor="middle" font-weight="bold" stroke="#222" stroke-width="0.12">ROC curve ( AUC =  0.77 )</text>
<line x1="38.40" y1="324.00" x2="120.40" y2="246.90" stroke="#555" stroke-width="0.6"/>
<polyline points="38.20,324.20 38.20,317.20 39.20,317.20 39.20,312.00 40.50,312.00 40.50,307.70 41.60,307.70 41.60,303.50 42.90,303.50 42.90,300.60 44.40,300.60 44.40,297.10 45.90,297.10 45.90,293.50 47.50,293.50 47.50,290.10 49.20,290.10 49.20,280.60 54.50,282.00 56.30,282.00 56.30,277.80 61.60,279.50 63.30,277.00 63.30,273.50 65.00,273.50 65.00,270.70 66.80,269.00 66.80,266.40 68.60,264.40 70.20,261.00 72.10,257.40 84.40,259.50 84.40,256.00 86.20,252.40 104.80,250.30 104.80,246.80 121.40,246.80" fill="none" stroke="#e8344a" stroke-width="0.7" stroke-linejoin="round"/>
<rect x="35.10" y="243.80" width="88.90" height="82.80" fill="none" stroke="#888" stroke-width="0.45"/>
<line x1="38.40" y1="326.60" x2="38.40" y2="327.80" stroke="#666" stroke-width="0.4"/>
<text x="38.40" y="333.30" font-size="3.6" fill="#444" text-anchor="middle" font-weight="normal" stroke="#444" stroke-width="0.12">0.0</text>
<line x1="35.10" y1="324.00" x2="33.90" y2="324.00" stroke="#666" stroke-width="0.4"/>
<text x="29.20" y="324.00" font-size="3.6" fill="#444" text-anchor="middle" font-weight="normal" stroke="#444" stroke-width="0.12" transform="rotate(-90 29.20 324.00)">0.0</text>
<line x1="54.80" y1="326.60" x2="54.80" y2="327.80" stroke="#666" stroke-width="0.4"/>
<text x="54.80" y="333.30" font-size="3.6" fill="#444" text-anchor="middle" font-weight="normal" stroke="#444" stroke-width="0.12">0.2</text>
<line x1="35.10" y1="308.58" x2="33.90" y2="308.58" stroke="#666" stroke-width="0.4"/>
<text x="29.20" y="308.58" font-size="3.6" fill="#444" text-anchor="middle" font-weight="normal" stroke="#444" stroke-width="0.12" transform="rotate(-90 29.20 308.58)">0.2</text>
<line x1="71.20" y1="326.60" x2="71.20" y2="327.80" stroke="#666" stroke-width="0.4"/>
<text x="71.20" y="333.30" font-size="3.6" fill="#444" text-anchor="middle" font-weight="normal" stroke="#444" stroke-width="0.12">0.4</text>
<line x1="35.10" y1="293.16" x2="33.90" y2="293.16" stroke="#666" stroke-width="0.4"/>
<text x="29.20" y="293.16" font-size="3.6" fill="#444" text-anchor="middle" font-weight="normal" stroke="#444" stroke-width="0.12" transform="rotate(-90 29.20 293.16)">0.4</text>
<line x1="87.60" y1="326.60" x2="87.60" y2="327.80" stroke="#666" stroke-width="0.4"/>
<text x="87.60" y="333.30" font-size="3.6" fill="#444" text-anchor="middle" font-weight="normal" stroke="#444" stroke-width="0.12">0.6</text>
<line x1="35.10" y1="277.74" x2="33.90" y2="277.74" stroke="#666" stroke-width="0.4"/>
<text x="29.20" y="277.74" font-size="3.6" fill="#444" text-anchor="middle" font-weight="normal" stroke="#444" stroke-width="0.12" transform="rotate(-90 29.20 277.74)">0.6</text>
<line x1="104.00" y1="326.60" x2="104.00" y2="327.80" stroke="#666" stroke-width="0.4"/>
<text x="104.00" y="333.30" font-size="3.6" fill="#444" text-anchor="middle" font-weight="normal" stroke="#444" stroke-width="0.12">0.8</text>
<line x1="35.10" y1="262.32" x2="33.90" y2="262.32" stroke="#666" stroke-width="0.4"/>
<text x="29.20" y="262.32" font-size="3.6" fill="#444" text-anchor="middle" font-weight="normal" stroke="#444" stroke-width="0.12" transform="rotate(-90 29.20 262.32)">0.8</text>
<line x1="120.40" y1="326.60" x2="120.40" y2="327.80" stroke="#666" stroke-width="0.4"/>
<text x="120.40" y="333.30" font-size="3.6" fill="#444" text-anchor="middle" font-weight="normal" stroke="#444" stroke-width="0.12">1.0</text>
<line x1="35.10" y1="246.90" x2="33.90" y2="246.90" stroke="#666" stroke-width="0.4"/>
<text x="29.20" y="246.90" font-size="3.6" fill="#444" text-anchor="middle" font-weight="normal" stroke="#444" stroke-width="0.12" transform="rotate(-90 29.20 246.90)">1.0</text>
<text x="79.20" y="341.90" font-size="3.9" fill="#333" text-anchor="middle" font-weight="normal" stroke="#333" stroke-width="0.12">False positive rate</text>
<text x="21.40" y="286.00" font-size="3.9" fill="#333" text-anchor="middle" font-weight="normal" stroke="#333" stroke-width="0.12" transform="rotate(-90 21.40 286.00)">True positive rate</text>
<text x="145.00" y="237.30" font-size="8.6" fill="#000" text-anchor="start" font-weight="bold" stroke="#000" stroke-width="0.12">G</text>
<line x1="170.30" y1="320.20" x2="254.50" y2="248.30" stroke="#b0b0c0" stroke-width="0.45"/>
<polyline points="170.90,320.20 170.90,297.80 173.00,297.80 173.00,295.90 176.50,295.90 176.50,292.00 179.00,292.00 179.00,289.00 181.00,289.00 181.00,282.50 201.80,282.50 201.80,276.30 210.70,276.30 210.70,269.30 231.00,269.30 231.00,266.80 243.50,266.80 243.50,262.60 254.50,262.60 254.50,248.30" fill="none" stroke="#f0c080" stroke-width="0.6" stroke-linejoin="round"/>
<polyline points="170.30,320.20 170.30,268.75 202.80,268.75 202.80,261.50 254.50,261.50 254.50,248.30" fill="none" stroke="#c8dc80" stroke-width="0.6" stroke-linejoin="round"/>
<polyline points="170.30,320.20 170.30,311.40 171.90,311.40 171.90,303.60 173.70,303.60 173.70,299.00 175.15,299.00 175.15,295.90 177.00,295.90 177.00,292.70 179.00,292.70 179.00,289.50 180.90,289.50 180.90,282.50 188.50,282.50 188.50,279.00 193.20,279.00 193.20,276.40 195.80,276.40 195.80,273.80 198.40,273.80 198.40,269.90 201.00,269.90 201.00,266.00 202.60,266.00 202.60,262.00 218.20,262.00 218.20,256.90 219.50,256.90 219.50,253.00 238.90,253.00 238.90,248.30 254.50,248.30" fill="none" stroke="#d06060" stroke-width="0.6" stroke-linejoin="round"/>
<rect x="166.90" y="245.20" width="91.40" height="77.60" fill="none" stroke="#888" stroke-width="0.45"/>
<line x1="170.30" y1="322.80" x2="170.30" y2="324.00" stroke="#666" stroke-width="0.4"/>
<text x="170.30" y="330.90" font-size="3.6" fill="#444" text-anchor="middle" font-weight="normal" stroke="#444" stroke-width="0.12">0.0</text>
<line x1="166.90" y1="320.20" x2="165.70" y2="320.20" stroke="#666" stroke-width="0.4"/>
<text x="159.60" y="320.20" font-size="3.6" fill="#444" text-anchor="middle" font-weight="normal" stroke="#444" stroke-width="0.12" transform="rotate(-90 159.60 320.20)">0.0</text>
<line x1="187.14" y1="322.80" x2="187.14" y2="324.00" stroke="#666" stroke-width="0.4"/>
<text x="187.14" y="330.90" font-size="3.6" fill="#444" text-anchor="middle" font-weight="normal" stroke="#444" stroke-width="0.12">0.2</text>
<line x1="166.90" y1="305.82" x2="165.70" y2="305.82" stroke="#666" stroke-width="0.4"/>
<text x="159.60" y="305.82" font-size="3.6" fill="#444" text-anchor="middle" font-weight="normal" stroke="#444" stroke-width="0.12" transform="rotate(-90 159.60 305.82)">0.2</text>
<line x1="203.98" y1="322.80" x2="203.98" y2="324.00" stroke="#666" stroke-width="0.4"/>
<text x="203.98" y="330.90" font-size="3.6" fill="#444" text-anchor="middle" font-weight="normal" stroke="#444" stroke-width="0.12">0.4</text>
<line x1="166.90" y1="291.44" x2="165.70" y2="291.44" stroke="#666" stroke-width="0.4"/>
<text x="159.60" y="291.44" font-size="3.6" fill="#444" text-anchor="middle" font-weight="normal" stroke="#444" stroke-width="0.12" transform="rotate(-90 159.60 291.44)">0.4</text>
<line x1="220.82" y1="322.80" x2="220.82" y2="324.00" stroke="#666" stroke-width="0.4"/>
<text x="220.82" y="330.90" font-size="3.6" fill="#444" text-anchor="middle" font-weight="normal" stroke="#444" stroke-width="0.12">0.6</text>
<line x1="166.90" y1="277.06" x2="165.70" y2="277.06" stroke="#666" stroke-width="0.4"/>
<text x="159.60" y="277.06" font-size="3.6" fill="#444" text-anchor="middle" font-weight="normal" stroke="#444" stroke-width="0.12" transform="rotate(-90 159.60 277.06)">0.6</text>
<line x1="237.66" y1="322.80" x2="237.66" y2="324.00" stroke="#666" stroke-width="0.4"/>
<text x="237.66" y="330.90" font-size="3.6" fill="#444" text-anchor="middle" font-weight="normal" stroke="#444" stroke-width="0.12">0.8</text>
<line x1="166.90" y1="262.68" x2="165.70" y2="262.68" stroke="#666" stroke-width="0.4"/>
<text x="159.60" y="262.68" font-size="3.6" fill="#444" text-anchor="middle" font-weight="normal" stroke="#444" stroke-width="0.12" transform="rotate(-90 159.60 262.68)">0.8</text>
<line x1="254.50" y1="322.80" x2="254.50" y2="324.00" stroke="#666" stroke-width="0.4"/>
<text x="254.50" y="330.90" font-size="3.6" fill="#444" text-anchor="middle" font-weight="normal" stroke="#444" stroke-width="0.12">1.0</text>
<line x1="166.90" y1="248.30" x2="165.70" y2="248.30" stroke="#666" stroke-width="0.4"/>
<text x="159.60" y="248.30" font-size="3.6" fill="#444" text-anchor="middle" font-weight="normal" stroke="#444" stroke-width="0.12" transform="rotate(-90 159.60 248.30)">1.0</text>
<text x="214.20" y="341.90" font-size="4.0" fill="#333" text-anchor="middle" font-weight="normal" stroke="#333" stroke-width="0.12">1-Specificity</text>
<text x="151.20" y="283.50" font-size="4.1" fill="#333" text-anchor="middle" font-weight="normal" stroke="#333" stroke-width="0.12" transform="rotate(-90 151.20 283.50)">Sensitivity</text>
<line x1="206.60" y1="308.40" x2="213.30" y2="308.40" stroke="#d06060" stroke-width="0.7"/>
<text x="216.80" y="309.70" font-size="4.0" fill="#333" text-anchor="start" font-weight="normal" stroke="#333" stroke-width="0.12">AUC at 1 years: 0.757</text>
<line x1="206.60" y1="312.90" x2="213.30" y2="312.90" stroke="#f0c080" stroke-width="0.7"/>
<text x="216.80" y="314.20" font-size="4.0" fill="#333" text-anchor="start" font-weight="normal" stroke="#333" stroke-width="0.12">AUC at 3 years: 0.620</text>
<line x1="206.60" y1="317.50" x2="213.30" y2="317.50" stroke="#c8dc80" stroke-width="0.7"/>
<text x="216.80" y="318.80" font-size="4.0" fill="#333" text-anchor="start" font-weight="normal" stroke="#333" stroke-width="0.12">AUC at 5 years: 0.774</text>
</svg></body></html>
